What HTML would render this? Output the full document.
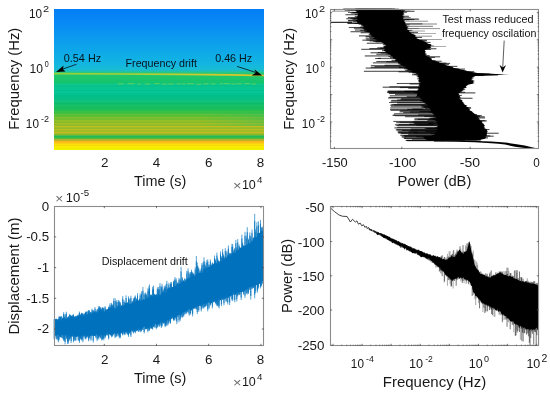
<!DOCTYPE html>
<html><head><meta charset="utf-8"><style>
html,body{margin:0;padding:0;background:#fff;}
svg{display:block;}
text{font-family:"Liberation Sans", Arial, sans-serif;}
</style></head><body>
<svg width="550" height="399" viewBox="0 0 550 399">
<rect width="550" height="399" fill="#fff"/>
<g shape-rendering="crispEdges">
<rect x="54" y="9" width="210" height="1" fill="#047ef6"/>
<rect x="54" y="10" width="210" height="1" fill="#047ff6"/>
<rect x="54" y="11" width="210" height="1" fill="#0580f6"/>
<rect x="54" y="12" width="210" height="1" fill="#0581f6"/>
<rect x="54" y="13" width="210" height="1" fill="#0581f6"/>
<rect x="54" y="14" width="210" height="1" fill="#0682f6"/>
<rect x="54" y="15" width="210" height="1" fill="#0683f5"/>
<rect x="54" y="16" width="210" height="1" fill="#0683f5"/>
<rect x="54" y="17" width="210" height="1" fill="#0684f5"/>
<rect x="54" y="18" width="210" height="1" fill="#0785f5"/>
<rect x="54" y="19" width="210" height="1" fill="#0786f5"/>
<rect x="54" y="20" width="210" height="1" fill="#0787f5"/>
<rect x="54" y="21" width="210" height="1" fill="#0788f4"/>
<rect x="54" y="22" width="210" height="1" fill="#0889f4"/>
<rect x="54" y="23" width="210" height="1" fill="#088af4"/>
<rect x="54" y="24" width="210" height="1" fill="#088bf4"/>
<rect x="54" y="25" width="210" height="1" fill="#088cf3"/>
<rect x="54" y="26" width="210" height="1" fill="#098ef3"/>
<rect x="54" y="27" width="210" height="1" fill="#098ff2"/>
<rect x="54" y="28" width="210" height="1" fill="#0990f2"/>
<rect x="54" y="29" width="210" height="1" fill="#0991f2"/>
<rect x="54" y="30" width="210" height="1" fill="#0a92f2"/>
<rect x="54" y="31" width="210" height="1" fill="#0a93f1"/>
<rect x="54" y="32" width="210" height="1" fill="#0a95f1"/>
<rect x="54" y="33" width="210" height="1" fill="#0a96f0"/>
<rect x="54" y="34" width="210" height="1" fill="#0b97f0"/>
<rect x="54" y="35" width="210" height="1" fill="#0b98f0"/>
<rect x="54" y="36" width="210" height="1" fill="#0b99ef"/>
<rect x="54" y="37" width="210" height="1" fill="#0b9aef"/>
<rect x="54" y="38" width="210" height="1" fill="#0c9bee"/>
<rect x="54" y="39" width="210" height="1" fill="#0c9cee"/>
<rect x="54" y="40" width="210" height="1" fill="#0c9dee"/>
<rect x="54" y="41" width="210" height="1" fill="#0c9eed"/>
<rect x="54" y="42" width="210" height="1" fill="#0c9fed"/>
<rect x="54" y="43" width="210" height="1" fill="#0da0ed"/>
<rect x="54" y="44" width="210" height="1" fill="#0da1ec"/>
<rect x="54" y="45" width="210" height="1" fill="#0da2ec"/>
<rect x="54" y="46" width="210" height="1" fill="#0da4eb"/>
<rect x="54" y="47" width="210" height="1" fill="#0ea4eb"/>
<rect x="54" y="48" width="210" height="1" fill="#0ea6ea"/>
<rect x="54" y="49" width="210" height="1" fill="#0ea6ea"/>
<rect x="54" y="50" width="210" height="1" fill="#0ea8e9"/>
<rect x="54" y="51" width="210" height="1" fill="#0ea8e9"/>
<rect x="54" y="52" width="210" height="1" fill="#0eaae8"/>
<rect x="54" y="53" width="210" height="1" fill="#0faae8"/>
<rect x="54" y="54" width="210" height="1" fill="#0face7"/>
<rect x="54" y="55" width="210" height="1" fill="#0fade7"/>
<rect x="54" y="56" width="210" height="1" fill="#10aee6"/>
<rect x="54" y="57" width="210" height="1" fill="#10afe5"/>
<rect x="54" y="58" width="210" height="1" fill="#11b0e4"/>
<rect x="54" y="59" width="210" height="1" fill="#11b1e4"/>
<rect x="54" y="60" width="210" height="1" fill="#11b2e3"/>
<rect x="54" y="61" width="210" height="1" fill="#12b3e2"/>
<rect x="54" y="62" width="210" height="1" fill="#12b4e1"/>
<rect x="54" y="63" width="210" height="1" fill="#13b5e0"/>
<rect x="54" y="64" width="210" height="1" fill="#14b7df"/>
<rect x="54" y="65" width="210" height="1" fill="#14b8dd"/>
<rect x="54" y="66" width="210" height="1" fill="#16b9db"/>
<rect x="54" y="67" width="210" height="1" fill="#16bad9"/>
<rect x="54" y="68" width="210" height="1" fill="#18bbd7"/>
<rect x="54" y="69" width="210" height="1" fill="#1abdcf"/>
<rect x="54" y="70" width="210" height="1" fill="#1cbfc0"/>
<rect x="54" y="71" width="210" height="1" fill="#21c2a7"/>
<rect x="54" y="72" width="210" height="1" fill="#28c682"/>
<rect x="54" y="73" width="210" height="1" fill="#25c67b"/>
<rect x="54" y="74" width="210" height="1" fill="#22c674"/>
<rect x="54" y="75" width="210" height="1" fill="#1fc66d"/>
<rect x="54" y="76" width="210" height="1" fill="#1ec669"/>
<rect x="54" y="77" width="210" height="1" fill="#1dc66a"/>
<rect x="54" y="78" width="210" height="1" fill="#1cc76c"/>
<rect x="54" y="79" width="210" height="1" fill="#1ac56c"/>
<rect x="54" y="80" width="210" height="1" fill="#17c36b"/>
<rect x="54" y="81" width="210" height="1" fill="#17c56d"/>
<rect x="54" y="82" width="210" height="1" fill="#13c372"/>
<rect x="54" y="83" width="210" height="1" fill="#11c57d"/>
<rect x="54" y="84" width="210" height="1" fill="#10c889"/>
<rect x="54" y="85" width="210" height="1" fill="#08c28c"/>
<rect x="54" y="86" width="210" height="1" fill="#07c18d"/>
<rect x="54" y="87" width="210" height="1" fill="#0ac590"/>
<rect x="54" y="88" width="210" height="1" fill="#09c592"/>
<rect x="54" y="89" width="210" height="1" fill="#08c493"/>
<rect x="54" y="90" width="210" height="1" fill="#04c192"/>
<rect x="54" y="91" width="210" height="1" fill="#06c495"/>
<rect x="54" y="92" width="210" height="1" fill="#08c696"/>
<rect x="54" y="93" width="210" height="1" fill="#03c091"/>
<rect x="54" y="94" width="210" height="1" fill="#06c290"/>
<rect x="54" y="95" width="210" height="1" fill="#02bd8c"/>
<rect x="54" y="96" width="210" height="1" fill="#05bf8a"/>
<rect x="54" y="97" width="210" height="1" fill="#04bd87"/>
<rect x="54" y="98" width="210" height="1" fill="#09c188"/>
<rect x="54" y="99" width="210" height="1" fill="#07be82"/>
<rect x="54" y="100" width="210" height="1" fill="#0ec27f"/>
<rect x="54" y="101" width="210" height="1" fill="#0fc17a"/>
<rect x="54" y="102" width="210" height="1" fill="#10c074"/>
<rect x="54" y="103" width="210" height="1" fill="#0bb96b"/>
<rect x="54" y="104" width="210" height="1" fill="#13be69"/>
<rect x="54" y="105" width="210" height="1" fill="#17c067"/>
<rect x="54" y="106" width="210" height="1" fill="#19c063"/>
<rect x="54" y="107" width="210" height="1" fill="#16bb5d"/>
<rect x="54" y="108" width="210" height="1" fill="#1cbf5b"/>
<rect x="54" y="109" width="210" height="1" fill="#1fbd56"/>
<rect x="54" y="110" width="210" height="1" fill="#28be50"/>
<rect x="54" y="111" width="210" height="1" fill="#36c34d"/>
<rect x="54" y="112" width="210" height="1" fill="#3abe44"/>
<rect x="54" y="113" width="210" height="1" fill="#42c042"/>
<rect x="54" y="114" width="210" height="1" fill="#64bf38"/>
<rect x="54" y="115" width="210" height="1" fill="#55bf38"/>
<rect x="54" y="116" width="210" height="1" fill="#62bf34"/>
<rect x="54" y="117" width="210" height="1" fill="#7dbf2e"/>
<rect x="54" y="118" width="210" height="1" fill="#75be2f"/>
<rect x="54" y="119" width="210" height="1" fill="#75bd2e"/>
<rect x="54" y="120" width="210" height="1" fill="#95bd27"/>
<rect x="54" y="121" width="210" height="1" fill="#90be28"/>
<rect x="54" y="122" width="210" height="1" fill="#7ebd2c"/>
<rect x="54" y="123" width="210" height="1" fill="#aebc23"/>
<rect x="54" y="124" width="210" height="1" fill="#91bd29"/>
<rect x="54" y="125" width="210" height="1" fill="#90bd29"/>
<rect x="54" y="126" width="210" height="1" fill="#c1bc20"/>
<rect x="54" y="127" width="210" height="1" fill="#9fbd26"/>
<rect x="54" y="128" width="210" height="1" fill="#95bc28"/>
<rect x="54" y="129" width="210" height="1" fill="#bdbc21"/>
<rect x="54" y="130" width="210" height="1" fill="#a6bc25"/>
<rect x="54" y="131" width="210" height="1" fill="#a3bc26"/>
<rect x="54" y="132" width="210" height="1" fill="#c8bb1f"/>
<rect x="54" y="133" width="210" height="1" fill="#9eba27"/>
<rect x="54" y="134" width="210" height="1" fill="#90b72b"/>
<rect x="54" y="135" width="210" height="1" fill="#4fbd48"/>
<rect x="54" y="136" width="210" height="1" fill="#24ba51"/>
<rect x="54" y="137" width="210" height="1" fill="#2abf50"/>
<rect x="54" y="138" width="210" height="1" fill="#5cbb3d"/>
<rect x="54" y="139" width="210" height="1" fill="#aeb727"/>
<rect x="54" y="140" width="210" height="1" fill="#c2b124"/>
<rect x="54" y="141" width="210" height="1" fill="#f6b81c"/>
<rect x="54" y="142" width="210" height="1" fill="#f9c018"/>
<rect x="54" y="143" width="210" height="1" fill="#fdcf13"/>
<rect x="54" y="144" width="210" height="1" fill="#fdde0d"/>
<rect x="54" y="145" width="210" height="1" fill="#f5de05"/>
<rect x="54" y="146" width="210" height="1" fill="#f6e803"/>
<rect x="54" y="147" width="210" height="1" fill="#f9ef04"/>
<rect x="54" y="148" width="210" height="1" fill="#f0eb00"/>
<rect x="54" y="149" width="210" height="0.5" fill="#f5f400"/>
</g>
<defs><linearGradient id="gr" x1="200" y1="0" x2="264" y2="0" gradientUnits="userSpaceOnUse"><stop offset="0" stop-color="#20c070" stop-opacity="0"/><stop offset="1" stop-color="#20c070" stop-opacity="0.45"/></linearGradient></defs>
<rect x="200" y="112" width="64" height="14" fill="url(#gr)" opacity="0.6"/>
<defs><linearGradient id="yl" x1="54" y1="0" x2="264" y2="0" gradientUnits="userSpaceOnUse"><stop offset="0" stop-color="#8cd43c"/><stop offset="0.45" stop-color="#b4d034"/><stop offset="0.8" stop-color="#d8c82c"/><stop offset="1" stop-color="#dcc02a"/></linearGradient></defs>
<path d="M54,73.6 L120,74.0 L180,74.4 L230,74.9 L264,75.5" stroke="url(#yl)" stroke-width="1.6" fill="none"/>
<path d="M118.0,83.8h5.3M127.7,83.7h6.7M137.7,84.1h2.7M145.1,83.9h4.8M154.4,83.6h5.2M162.1,84.0h4.1M167.4,83.9h6.4M176.9,83.8h3.6M181.6,83.9h3.9M187.0,83.7h6.8M196.5,84.2h4.6M203.5,83.8h5.0M210.9,83.8h4.6M220.1,83.6h2.8M223.9,83.6h5.8M231.2,84.0h4.1M236.4,83.7h5.1M244.6,83.6h5.6M252.0,84.0h3.8" stroke="#b0d840" stroke-width="0.9" fill="none" opacity="0.55"/>
<text x="63.83" y="61.50" font-size="10.60" fill="#06121c" textLength="37.27" lengthAdjust="spacingAndGlyphs">0.54 Hz</text>
<text x="125.57" y="67.20" font-size="10.60" fill="#06121c" textLength="71.35" lengthAdjust="spacingAndGlyphs">Frequency drift</text>
<text x="215.23" y="62.20" font-size="10.60" fill="#06121c" textLength="36.96" lengthAdjust="spacingAndGlyphs">0.46 Hz</text>
<path d="M76.5,64.3 L62.8,69" stroke="#051018" stroke-width="0.8"/>
<path d="M56,71.9 L63.6,65.6 L62.9,69.1 L65.4,71.6 Z" fill="#000"/>
<path d="M237,66.4 L256,72.5" stroke="#051018" stroke-width="0.8"/>
<path d="M262.2,75.4 L254.4,69.2 L256,72.5 L251.8,75.6 Z" fill="#000"/>
<path d="M356.4,9.00 L356.9,9.50 L354.6,10.00 L358.6,10.50 L357.0,11.00 L356.7,11.50 L357.6,12.00 L357.3,12.50 L356.8,13.00 L358.1,13.50 L358.3,14.00 L357.9,14.50 L358.3,15.00 L357.8,15.50 L357.0,16.00 L357.1,16.50 L358.1,17.00 L355.8,17.50 L356.7,18.00 L358.2,18.50 L357.3,19.00 L357.6,19.50 L356.7,20.00 L355.3,20.50 L356.0,21.00 L357.2,21.50 L357.2,22.00 L358.1,22.50 L359.1,23.00 L360.5,23.50 L359.7,24.00 L361.8,24.50 L360.9,25.00 L362.4,25.50 L362.9,26.00 L363.9,26.50 L363.5,27.00 L363.9,27.50 L365.0,28.00 L361.8,28.50 L363.2,29.00 L366.1,29.50 L363.2,30.00 L366.4,30.50 L367.0,31.00 L365.8,31.50 L367.1,32.00 L369.6,32.50 L370.1,33.00 L369.5,33.50 L369.9,34.00 L370.4,34.50 L372.1,35.00 L370.4,35.50 L372.3,36.00 L371.0,36.50 L374.0,37.00 L373.8,37.50 L375.8,38.00 L372.4,38.50 L373.3,39.00 L375.8,39.50 L377.2,40.00 L376.9,40.50 L379.1,41.00 L379.7,41.50 L381.6,42.00 L381.7,42.50 L382.9,43.00 L384.2,43.50 L383.2,44.00 L382.4,44.50 L386.3,45.00 L385.9,45.50 L382.2,46.00 L385.1,46.50 L383.6,47.00 L384.4,47.50 L384.8,48.00 L385.9,48.50 L383.2,49.00 L385.2,49.50 L384.0,50.00 L383.8,50.50 L384.1,51.00 L385.2,51.50 L386.5,52.00 L385.9,52.50 L389.2,53.00 L388.1,53.50 L387.4,54.00 L390.5,54.50 L389.9,55.00 L390.9,55.50 L391.0,56.00 L392.8,56.50 L393.0,57.00 L392.4,57.50 L393.5,58.00 L392.6,58.50 L396.8,59.00 L394.6,59.50 L395.8,60.00 L394.7,60.50 L395.5,61.00 L399.0,61.50 L398.4,62.00 L398.1,62.50 L397.3,63.00 L401.2,63.50 L398.9,64.00 L400.0,64.50 L401.0,65.00 L402.4,65.50 L402.8,66.00 L403.5,66.50 L406.7,67.00 L405.3,67.50 L406.5,68.00 L405.2,68.50 L408.5,69.00 L406.4,69.50 L408.5,70.00 L412.9,70.50 L410.1,71.00 L411.8,71.50 L411.4,72.00 L412.2,72.50 L415.8,73.00 L415.5,73.50 L417.6,74.00 L419.0,74.50 L417.3,75.00 L418.0,75.50 L418.7,76.00 L416.7,76.50 L418.2,77.00 L419.2,77.50 L416.7,78.00 L419.4,78.50 L416.3,79.00 L419.6,79.50 L418.6,80.00 L417.9,80.50 L419.2,81.00 L418.8,81.50 L417.7,82.00 L421.1,82.50 L421.3,83.00 L418.7,83.50 L419.3,84.00 L419.1,84.50 L419.3,85.00 L418.0,85.50 L420.5,86.00 L419.3,86.50 L417.9,87.00 L418.3,87.50 L417.9,88.00 L418.4,88.50 L419.2,89.00 L419.1,89.50 L416.9,90.00 L418.2,90.50 L417.0,91.00 L416.0,91.50 L416.7,92.00 L417.9,92.50 L416.1,93.00 L417.0,93.50 L418.3,94.00 L417.0,94.50 L416.9,95.00 L417.1,95.50 L416.6,96.00 L418.9,96.50 L419.7,97.00 L420.3,97.50 L419.5,98.00 L420.0,98.50 L422.6,99.00 L421.0,99.50 L422.2,100.00 L419.8,100.50 L422.4,101.00 L422.9,101.50 L422.9,102.00 L426.9,102.50 L425.3,103.00 L424.0,103.50 L426.7,104.00 L427.2,104.50 L427.7,105.00 L429.7,105.50 L428.3,106.00 L428.8,106.50 L428.3,107.00 L428.2,107.50 L429.7,108.00 L430.0,108.50 L429.4,109.00 L430.2,109.50 L431.2,110.00 L431.6,110.50 L431.1,111.00 L429.7,111.50 L432.7,112.00 L432.4,112.50 L432.1,113.00 L432.9,113.50 L432.5,114.00 L434.5,114.50 L434.1,115.00 L432.9,115.50 L435.4,116.00 L435.8,116.50 L435.3,117.00 L436.4,117.50 L434.3,118.00 L437.7,118.50 L436.9,119.00 L438.0,119.50 L434.0,120.00 L435.4,120.50 L436.5,121.00 L436.9,121.50 L439.5,122.00 L437.3,122.50 L436.0,123.00 L438.1,123.50 L437.8,124.00 L436.8,124.50 L438.7,125.00 L439.1,125.50 L437.4,126.00 L436.5,126.50 L438.4,127.00 L438.0,127.50 L437.2,128.00 L436.6,128.50 L437.2,129.00 L438.0,129.50 L437.5,130.00 L433.7,130.50 L437.2,131.00 L438.1,131.50 L436.0,132.00 L436.0,132.50 L434.6,133.00 L436.5,133.50 L433.6,134.00 L434.8,134.50 L434.5,135.00 L432.1,135.50 L433.0,136.00 L422.8,136.50 L424.7,137.00 L422.2,137.50 L424.3,138.00 L424.1,138.50 L425.3,139.00 L425.5,139.50 L427.8,140.00 L429.4,140.50 L481.0,140.50 L480.4,140.00 L481.4,139.50 L484.1,139.00 L485.1,138.50 L485.8,138.00 L486.5,137.50 L485.4,137.00 L485.5,136.50 L487.3,136.00 L486.6,135.50 L486.2,135.00 L486.9,134.50 L487.1,134.00 L486.8,133.50 L487.6,133.00 L486.5,132.50 L487.1,132.00 L487.8,131.50 L487.4,131.00 L486.7,130.50 L487.4,130.00 L486.0,129.50 L487.0,129.00 L484.2,128.50 L485.2,128.00 L484.0,127.50 L485.1,127.00 L483.5,126.50 L484.8,126.00 L484.6,125.50 L484.5,125.00 L483.6,124.50 L484.0,124.00 L483.2,123.50 L481.9,123.00 L481.9,122.50 L483.0,122.00 L481.6,121.50 L482.0,121.00 L479.5,120.50 L480.5,120.00 L479.6,119.50 L478.1,119.00 L479.7,118.50 L478.9,118.00 L478.2,117.50 L478.1,117.00 L476.6,116.50 L476.9,116.00 L476.6,115.50 L476.3,115.00 L475.2,114.50 L474.9,114.00 L474.3,113.50 L473.5,113.00 L472.8,112.50 L472.5,112.00 L472.1,111.50 L471.3,111.00 L469.9,110.50 L469.4,110.00 L470.1,109.50 L469.3,109.00 L468.4,108.50 L468.7,108.00 L468.5,107.50 L467.5,107.00 L466.5,106.50 L465.9,106.00 L467.5,105.50 L465.5,105.00 L464.2,104.50 L464.6,104.00 L463.9,103.50 L463.1,103.00 L464.0,102.50 L462.1,102.00 L462.2,101.50 L462.8,101.00 L462.0,100.50 L462.2,100.00 L459.8,99.50 L461.3,99.00 L459.3,98.50 L458.9,98.00 L461.4,97.50 L459.7,97.00 L459.6,96.50 L460.6,96.00 L457.9,95.50 L458.9,95.00 L459.4,94.50 L458.6,94.00 L458.6,93.50 L459.0,93.00 L461.1,92.50 L459.1,92.00 L461.6,91.50 L461.6,91.00 L462.9,90.50 L462.6,90.00 L463.2,89.50 L463.6,89.00 L463.7,88.50 L465.2,88.00 L466.6,87.50 L466.6,87.00 L466.0,86.50 L465.8,86.00 L467.6,85.50 L467.3,85.00 L469.1,84.50 L471.4,84.00 L472.7,83.50 L475.0,83.00 L473.1,82.50 L473.2,82.00 L473.0,81.50 L473.5,81.00 L473.6,80.50 L470.7,80.00 L472.3,79.50 L472.6,79.00 L472.2,78.50 L471.4,78.00 L472.6,77.50 L472.5,77.00 L474.8,76.50 L475.1,76.00 L486.2,75.50 L496.1,75.00 L503.9,74.50 L495.1,74.00 L486.3,73.50 L477.2,73.00 L475.0,72.50 L471.9,72.00 L469.5,71.50 L466.4,71.00 L465.3,70.50 L463.4,70.00 L460.8,69.50 L459.2,69.00 L458.3,68.50 L454.3,68.00 L452.8,67.50 L452.9,67.00 L451.0,66.50 L449.1,66.00 L446.9,65.50 L445.6,65.00 L444.4,64.50 L442.2,64.00 L442.4,63.50 L440.4,63.00 L438.6,62.50 L439.4,62.00 L436.8,61.50 L436.2,61.00 L435.1,60.50 L431.8,60.00 L431.3,59.50 L431.2,59.00 L431.1,58.50 L430.0,58.00 L428.9,57.50 L429.9,57.00 L427.4,56.50 L426.6,56.00 L425.3,55.50 L425.7,55.00 L425.5,54.50 L425.6,54.00 L425.2,53.50 L425.8,53.00 L424.7,52.50 L425.0,52.00 L426.2,51.50 L424.7,51.00 L424.9,50.50 L425.1,50.00 L426.8,49.50 L426.0,49.00 L428.4,48.50 L430.3,48.00 L431.4,47.50 L430.4,47.00 L430.9,46.50 L431.2,46.00 L431.4,45.50 L430.9,45.00 L431.7,44.50 L429.3,44.00 L427.3,43.50 L426.8,43.00 L425.5,42.50 L425.8,42.00 L424.2,41.50 L423.1,41.00 L422.8,40.50 L419.8,40.00 L420.7,39.50 L415.9,39.00 L417.4,38.50 L417.4,38.00 L416.7,37.50 L416.4,37.00 L415.6,36.50 L415.5,36.00 L415.5,35.50 L415.8,35.00 L413.8,34.50 L413.0,34.00 L411.4,33.50 L410.7,33.00 L411.0,32.50 L409.2,32.00 L409.9,31.50 L408.8,31.00 L408.8,30.50 L408.7,30.00 L406.9,29.50 L407.9,29.00 L408.3,28.50 L406.5,28.00 L408.6,27.50 L407.3,27.00 L405.7,26.50 L406.2,26.00 L407.0,25.50 L406.6,25.00 L406.8,24.50 L404.7,24.00 L405.9,23.50 L406.2,23.00 L404.9,22.50 L405.2,22.00 L404.1,21.50 L404.4,21.00 L405.2,20.50 L403.2,20.00 L403.6,19.50 L403.3,19.00 L403.8,18.50 L402.4,18.00 L403.5,17.50 L404.8,17.00 L402.7,16.50 L404.8,16.00 L402.3,15.50 L403.0,15.00 L402.9,14.50 L402.8,14.00 L404.1,13.50 L404.4,13.00 L402.8,12.50 L403.3,12.00 L404.0,11.50 L402.9,11.00 L402.7,10.50 L403.6,10.00 L402.5,9.50 L401.6,9.00Z" fill="#000"/>
<path d="M443.7,140.80 L407.1,140.69 L437.9,140.59 L405.6,140.48 L464.6,140.38 L406.6,140.27 L435.4,140.17 L439.0,140.06 L436.2,139.96 L476.9,139.86 L440.3,139.75 L473.0,139.65 L465.2,139.54 L450.5,139.44 L454.6,139.33 L435.3,139.23 L412.0,139.12 L463.4,139.02 L442.7,138.91 L478.2,138.81 L450.7,138.70 L422.3,138.60 L404.5,138.49 L445.3,138.39 L450.0,138.28 L403.8,138.18 L406.0,138.07 L404.5,137.97 L488.0,137.86 L436.6,137.76 L430.8,137.66 L442.0,137.55 L455.0,137.45 L483.5,137.34 L436.0,137.24 L401.9,137.13 L452.3,137.03 L427.8,136.92 L416.3,136.82 L454.1,136.71 L449.8,136.61 L467.8,136.51 L459.6,136.40 L404.4,136.30 L493.7,136.19 L401.5,136.09 L418.6,135.98 L490.1,135.88 L418.3,135.77 L403.8,135.67 L475.8,135.57 L431.9,135.46 L458.2,135.36 L400.3,135.25 L472.8,135.15 L445.1,135.05 L437.1,134.94 L451.2,134.84 L459.0,134.73 L466.5,134.63 L450.2,134.52 L484.7,134.42 L408.3,134.32 L466.3,134.21 L471.0,134.11 L464.2,134.00 L460.0,133.90 L443.7,133.80 L430.5,133.69 L464.6,133.59 L400.8,133.48 L446.2,133.38 L498.7,133.28 L466.4,133.17 L398.3,133.07 L453.0,132.97 L414.0,132.86 L436.5,132.76 L448.5,132.65 L462.7,132.55 L397.8,132.45 L398.3,132.34 L417.8,132.24 L398.8,132.13 L468.0,132.03 L408.6,131.93 L475.7,131.82 L453.5,131.72 L458.1,131.62 L425.8,131.51 L432.6,131.41 L474.8,131.31 L436.6,131.20 L397.5,131.10 L479.6,131.00 L410.3,130.89 L411.1,130.79 L463.9,130.68 L415.9,130.58 L402.2,130.48 L478.3,130.37 L449.8,130.27 L458.1,130.17 L451.1,130.06 L395.8,129.96 L465.4,129.86 L438.6,129.75 L396.7,129.65 L489.4,129.55 L448.1,129.45 L477.2,129.34 L469.2,129.24 L410.8,129.14 L435.0,129.03 L445.1,128.93 L442.6,128.83 L444.7,128.72 L427.2,128.62 L474.3,128.52 L424.8,128.41 L448.9,128.31 L455.2,128.21 L465.8,128.10 L430.5,128.00 L394.5,127.90 L468.5,127.80 L480.6,127.69 L435.4,127.59 L480.1,127.49 L450.7,127.38 L397.2,127.28 L415.0,127.18 L437.1,127.08 L464.8,126.97 L447.0,126.87 L443.7,126.77 L452.6,126.67 L470.3,126.56 L469.7,126.46 L451.0,126.36 L441.5,126.25 L468.3,126.15 L443.3,126.05 L476.3,125.95 L460.3,125.84 L458.2,125.74 L453.2,125.64 L471.9,125.54 L396.5,125.43 L472.8,125.33 L418.5,125.23 L416.5,125.13 L474.6,125.02 L474.0,124.92 L394.9,124.82 L473.8,124.72 L450.7,124.62 L398.7,124.51 L433.7,124.41 L425.6,124.31 L409.2,124.21 L452.4,124.10 L471.0,124.00 L450.3,123.90 L464.8,123.80 L473.5,123.70 L427.9,123.59 L440.5,123.49 L414.8,123.39 L458.4,123.29 L459.3,123.19 L413.5,123.08 L433.1,122.98 L425.9,122.88 L413.4,122.78 L396.2,122.68 L452.4,122.57 L436.4,122.47 L476.6,122.37 L399.7,122.27 L441.8,122.17 L442.4,122.06 L474.1,121.96 L412.5,121.86 L460.2,121.76 L472.4,121.66 L433.6,121.56 L393.4,121.45 L479.7,121.35 L467.3,121.25 L452.0,121.15 L478.5,121.05 L486.8,120.95 L464.7,120.85 L443.7,120.74 L485.3,120.64 L465.6,120.54 L427.5,120.44 L444.4,120.34 L474.6,120.24 L461.9,120.14 L453.5,120.03 L479.3,119.93 L414.3,119.83 L442.8,119.73 L435.7,119.63 L432.5,119.53 L474.8,119.43 L417.7,119.33 L441.1,119.22 L473.9,119.12 L428.9,119.02 L447.5,118.92 L414.6,118.82 L434.5,118.72 L471.8,118.62 L455.1,118.52 L431.7,118.42 L449.3,118.32 L458.5,118.21 L429.8,118.11 L438.6,118.01 L485.1,117.91 L476.0,117.81 L440.4,117.71 L444.7,117.61 L462.5,117.51 L468.7,117.41 L471.1,117.31 L454.9,117.21 L468.0,117.11 L433.1,117.01 L451.5,116.90 L484.7,116.80 L405.1,116.70 L455.4,116.60 L424.3,116.50 L458.0,116.40 L480.1,116.30 L457.6,116.20 L479.5,116.10 L450.2,116.00 L463.5,115.90 L443.3,115.80 L394.9,115.70 L481.8,115.60 L471.2,115.50 L437.7,115.40 L392.5,115.30 L395.0,115.20 L393.6,115.10 L473.6,115.00 L418.2,114.90 L455.0,114.80 L472.2,114.70 L464.6,114.60 L477.1,114.50 L436.3,114.40 L436.6,114.30 L449.9,114.20 L466.8,114.10 L474.0,114.00 L394.9,113.90 L394.7,113.80 L394.2,113.70 L448.1,113.60 L465.5,113.50 L454.1,113.40 L473.2,113.30 L449.5,113.20 L453.3,113.10 L444.1,113.00 L450.9,112.90 L442.9,112.80 L436.8,112.70 L403.3,112.60 L439.3,112.50 L429.3,112.40 L445.2,112.30 L447.8,112.20 L460.2,112.11 L410.0,112.01 L462.8,111.91 L399.5,111.81 L443.3,111.71 L419.4,111.61 L420.7,111.51 L455.1,111.41 L449.2,111.31 L463.8,111.21 L450.2,111.11 L449.6,111.01 L441.0,110.91 L400.3,110.82 L446.4,110.72 L465.2,110.62 L438.2,110.52 L431.0,110.42 L438.1,110.32 L390.6,110.22 L448.3,110.12 L460.8,110.02 L436.9,109.93 L425.8,109.83 L394.1,109.73 L390.2,109.63 L463.6,109.53 L413.3,109.43 L407.2,109.33 L423.3,109.23 L412.2,109.14 L419.4,109.04 L447.1,108.94 L456.9,108.84 L449.8,108.74 L464.1,108.64 L460.3,108.54 L435.4,108.45 L460.4,108.35 L425.2,108.25 L465.4,108.15 L471.1,108.05 L390.2,107.95 L470.7,107.86 L461.7,107.76 L438.9,107.66 L460.3,107.56 L423.5,107.46 L434.7,107.37 L462.2,107.27 L432.9,107.17 L421.3,107.07 L435.0,106.97 L456.6,106.88 L437.3,106.78 L424.6,106.68 L450.6,106.58 L422.7,106.48 L424.7,106.39 L459.9,106.29 L391.0,106.19 L445.6,106.09 L462.0,106.00 L427.5,105.90 L454.4,105.80 L463.9,105.70 L460.9,105.60 L431.1,105.51 L420.8,105.41 L448.4,105.31 L390.2,105.21 L455.0,105.12 L447.3,105.02 L420.8,104.92 L394.2,104.83 L422.3,104.73 L450.8,104.63 L435.9,104.53 L391.5,104.44 L457.2,104.34 L450.1,104.24 L456.7,104.14 L434.4,104.05 L441.1,103.95 L431.1,103.85 L435.5,103.76 L462.0,103.66 L445.0,103.56 L441.7,103.47 L441.6,103.37 L456.8,103.27 L448.2,103.17 L450.9,103.08 L457.5,102.98 L397.1,102.88 L456.3,102.79 L462.2,102.69 L459.5,102.59 L389.1,102.50 L462.6,102.40 L438.7,102.30 L440.7,102.21 L424.0,102.11 L427.4,102.02 L437.9,101.92 L431.5,101.82 L427.9,101.73 L456.6,101.63 L427.3,101.53 L444.7,101.44 L433.0,101.34 L390.8,101.24 L391.5,101.15 L452.9,101.05 L428.7,100.96 L420.0,100.86 L433.1,100.76 L436.7,100.67 L438.4,100.57 L432.9,100.48 L391.4,100.38 L445.9,100.28 L442.4,100.19 L426.7,100.09 L397.2,100.00 L432.7,99.90 L435.9,99.80 L430.1,99.71 L400.6,99.61 L427.2,99.52 L422.3,99.42 L422.1,99.33 L425.1,99.23 L433.0,99.14 L450.5,99.04 L422.7,98.94 L445.0,98.85 L401.1,98.75 L458.3,98.66 L454.8,98.56 L434.7,98.47 L430.7,98.37 L472.5,98.28 L429.4,98.18 L429.0,98.09 L388.0,97.99 L444.8,97.90 L459.5,97.80 L432.3,97.71 L451.2,97.61 L421.6,97.52 L389.2,97.42 L437.9,97.33 L423.2,97.23 L434.1,97.14 L432.0,97.04 L413.9,96.95 L406.7,96.85 L416.5,96.76 L440.9,96.66 L415.9,96.57 L425.9,96.47 L436.4,96.38 L449.3,96.28 L459.8,96.19 L429.9,96.10 L423.1,96.00 L438.0,95.91 L389.8,95.81 L413.1,95.72 L440.9,95.62 L457.7,95.53 L461.8,95.43 L428.5,95.34 L426.1,95.25 L445.4,95.15 L416.9,95.06 L423.2,94.96 L454.1,94.87 L421.9,94.78 L455.1,94.68 L443.9,94.59 L440.7,94.49 L395.0,94.40 L449.6,94.31 L431.1,94.21 L443.0,94.12 L441.7,94.03 L445.1,93.93 L455.9,93.84 L450.5,93.74 L433.7,93.65 L455.0,93.56 L422.0,93.46 L389.1,93.37 L437.7,93.28 L432.2,93.18 L388.6,93.09 L389.2,93.00 L475.3,92.90 L444.8,92.81 L438.5,92.72 L413.8,92.62 L450.2,92.53 L446.0,92.44 L387.3,92.34 L465.1,92.25 L442.8,92.16 L424.0,92.06 L387.0,91.97 L440.8,91.88 L451.3,91.79 L405.3,91.69 L455.7,91.60 L388.3,91.51 L454.5,91.41 L404.4,91.32 L452.7,91.23 L461.9,91.14 L387.9,91.04 L438.4,90.95 L449.2,90.86 L454.1,90.77 L428.3,90.67 L454.3,90.58 L462.2,90.49 L424.1,90.40 L433.3,90.30 L432.5,90.21 L425.5,90.12 L439.7,90.03 L463.7,89.93 L417.8,89.79 L450.3,89.64 L435.1,89.50 L465.2,89.35 L434.0,89.21 L424.2,89.06 L440.3,88.92 L452.6,88.77 L418.5,88.63 L461.7,88.48 L439.1,88.34 L408.3,88.19 L423.9,88.05 L446.9,87.90 L442.4,87.76 L399.9,87.62 L405.8,87.47 L458.5,87.33 L382.7,87.19 L433.6,87.04 L389.4,86.90 L391.2,86.76 L431.8,86.61 L458.6,86.47 L463.2,86.33 L448.8,86.19 L431.8,86.04 L453.8,85.90 L455.3,85.76 L453.2,85.62 L444.4,85.48 L443.6,85.34 L458.1,85.19 L454.5,85.05 L429.8,84.91 L429.8,84.77 L467.3,84.63 L448.7,84.49 L458.1,84.35 L457.4,84.21 L453.0,84.07 L409.7,83.93 L442.3,83.79 L434.3,83.65 L396.8,83.51 L417.5,83.37 L422.5,83.23 L473.0,83.09 L452.2,82.95 L438.3,82.81 L465.8,82.68 L424.5,82.54 L419.3,82.40 L453.9,82.26 L455.2,82.12 L466.6,81.98 L459.4,81.85 L464.8,81.71 L466.7,81.57 L425.7,81.43 L444.7,81.30 L474.3,81.16 L467.2,81.02 L447.5,80.89 L442.0,80.75 L449.9,80.61 L454.8,80.48 L424.1,80.34 L469.2,80.21 L436.8,80.07 L455.0,79.93 L435.8,79.80 L453.9,79.66 L427.2,79.53 L446.6,79.39 L423.0,79.26 L456.2,79.12 L422.1,78.99 L443.0,78.85 L465.9,78.72 L451.9,78.58 L440.8,78.45 L442.8,78.32 L429.4,78.18 L448.8,78.05 L473.6,77.92 L469.5,77.78 L444.9,77.65 L440.9,77.52 L438.4,77.38 L459.5,77.25 L433.5,77.12 L466.7,76.99 L445.0,76.85 L447.9,76.72 L454.7,76.59 L420.9,76.46 L434.0,76.33 L436.5,76.19 L443.7,76.06 L432.1,75.93 L416.5,75.80 L429.1,75.67 L484.2,75.54 L443.1,75.41 L447.5,75.28 L460.7,75.15 L497.9,75.02 L476.5,74.89 L412.0,74.76 L455.5,74.63 L445.0,74.50 L414.0,74.37 L424.9,74.24 L490.0,74.11 L468.0,73.98 L475.6,73.85 L433.2,73.72 L457.0,73.59 L430.3,73.47 L444.7,73.34 L468.6,73.21 L463.2,73.08 L412.4,72.95 L415.0,72.83 L427.0,72.70 L418.0,72.57 L431.4,72.44 L455.5,72.32 L408.7,72.19 L415.6,72.06 L421.8,71.94 L398.5,71.81 L474.2,71.68 L433.2,71.56 L451.4,71.43 L363.9,71.30 L465.3,71.18 L466.6,71.05 L414.5,70.93 L406.9,70.80 L454.3,70.68 L428.7,70.55 L438.4,70.43 L405.2,70.30 L442.4,70.18 L450.3,70.05 L415.6,69.93 L456.0,69.80 L426.3,69.68 L447.0,69.56 L442.3,69.43 L449.7,69.31 L462.5,69.19 L464.9,69.06 L418.4,68.94 L403.9,68.82 L433.6,68.69 L411.5,68.57 L415.1,68.45 L417.5,68.33 L430.9,68.20 L365.7,68.08 L433.2,67.96 L445.7,67.84 L447.2,67.72 L399.5,67.59 L442.4,67.47 L370.6,67.35 L400.6,67.23 L398.8,67.11 L444.5,66.99 L419.5,66.87 L426.6,66.75 L374.5,66.63 L434.7,66.51 L457.3,66.39 L426.1,66.27 L437.1,66.15 L421.1,66.03 L432.3,65.91 L394.3,65.79 L370.9,65.67 L443.5,65.55 L431.9,65.43 L384.6,65.31 L422.4,65.19 L413.8,65.07 L439.1,64.96 L423.4,64.84 L427.5,64.72 L448.9,64.60 L435.3,64.48 L425.1,64.37 L445.1,64.25 L426.5,64.13 L438.0,64.01 L440.2,63.90 L398.1,63.78 L398.6,63.66 L426.5,63.55 L450.1,63.43 L408.6,63.31 L446.4,63.20 L442.2,63.08 L402.4,62.96 L372.9,62.85 L411.1,62.73 L416.6,62.62 L415.3,62.50 L436.8,62.39 L402.2,62.27 L430.8,62.16 L408.1,62.04 L391.4,61.93 L386.3,61.81 L413.5,61.70 L405.2,61.58 L376.4,61.47 L408.0,61.36 L441.7,61.24 L406.6,61.13 L408.4,61.01 L429.6,60.90 L397.4,60.79 L415.8,60.67 L419.2,60.56 L401.3,60.45 L391.6,60.34 L415.7,60.22 L428.2,60.11 L429.5,60.00 L418.9,59.89 L398.7,59.77 L431.9,59.66 L404.5,59.55 L401.0,59.44 L405.5,59.33 L407.6,59.22 L417.5,59.10 L405.5,58.99 L417.8,58.88 L431.7,58.77 L417.4,58.66 L375.2,58.55 L381.0,58.44 L377.9,58.33 L392.7,58.22 L415.6,58.11 L426.1,58.00 L395.2,57.89 L407.5,57.78 L390.0,57.67 L419.9,57.56 L434.9,57.45 L421.2,57.34 L417.7,57.23 L419.1,57.13 L429.7,57.02 L395.2,56.91 L440.1,56.80 L401.3,56.69 L394.4,56.58 L426.0,56.48 L388.5,56.37 L404.4,56.26 L401.8,56.15 L426.2,56.05 L364.8,55.94 L392.9,55.83 L392.3,55.72 L426.9,55.62 L429.6,55.51 L406.9,55.40 L416.1,55.30 L410.7,55.19 L399.6,55.08 L401.7,54.98 L406.3,54.87 L403.0,54.77 L413.6,54.66 L409.9,54.55 L416.2,54.45 L379.8,54.34 L376.4,54.24 L426.8,54.13 L393.4,54.03 L416.7,53.92 L386.2,53.82 L393.2,53.71 L413.2,53.61 L390.7,53.51 L391.5,53.40 L388.1,53.30 L407.4,53.19 L389.2,53.09 L380.8,52.99 L396.8,52.88 L370.5,52.78 L402.4,52.68 L399.0,52.57 L377.8,52.47 L409.7,52.37 L425.3,52.27 L410.7,52.16 L405.0,52.06 L422.5,51.96 L394.2,51.86 L401.3,51.75 L386.1,51.65 L414.7,51.55 L389.6,51.45 L411.8,51.35 L401.8,51.24 L422.2,51.14 L403.6,51.04 L408.3,50.94 L396.9,50.84 L393.4,50.74 L382.0,50.64 L386.8,50.54 L423.3,50.44 L394.2,50.34 L417.6,50.24 L411.8,50.14 L407.0,50.04 L420.8,49.94 L391.8,49.84 L412.5,49.74 L407.8,49.64 L414.6,49.54 L430.9,49.44 L361.3,49.34 L417.1,49.24 L391.5,49.14 L400.3,49.04 L418.6,48.95 L401.6,48.85 L436.4,48.75 L423.2,48.65 L369.4,48.55 L411.6,48.46 L397.8,48.36 L389.3,48.26 L380.3,48.16 L429.6,48.06 L390.4,47.97 L377.3,47.87 L429.1,47.77 L426.8,47.68 L408.8,47.58 L411.5,47.48 L395.5,47.39 L426.3,47.29 L426.5,47.19 L383.3,47.10 L423.4,47.00 L423.5,46.90 L384.0,46.81 L392.1,46.71 L394.1,46.62 L405.5,46.52 L386.4,46.43 L408.3,46.33 L385.0,46.24 L434.0,46.14 L428.8,46.05 L415.9,45.95 L426.9,45.86 L395.0,45.76 L417.6,45.67 L389.4,45.57 L418.2,45.48 L430.3,45.38 L387.5,45.29 L414.3,45.20 L403.4,45.10 L404.6,45.01 L387.6,44.92 L423.5,44.82 L406.0,44.73 L422.7,44.64 L412.6,44.54 L408.4,44.45 L399.3,44.36 L401.7,44.26 L414.6,44.17 L396.9,44.08 L399.3,43.99 L410.3,43.89 L391.6,43.80 L424.3,43.71 L385.6,43.62 L427.4,43.53 L406.7,43.43 L424.2,43.34 L366.8,43.25 L388.2,43.16 L399.8,43.07 L422.6,42.98 L398.1,42.89 L416.5,42.80 L387.5,42.70 L411.5,42.61 L397.5,42.52 L430.5,42.43 L401.7,42.34 L400.1,42.25 L388.0,42.16 L425.3,42.07 L418.6,41.98 L375.6,41.89 L381.2,41.80 L389.3,41.71 L404.6,41.62 L393.5,41.53 L373.3,41.45 L403.3,41.36 L410.7,41.27 L403.2,41.18 L375.7,41.09 L410.1,41.00 L369.6,40.91 L426.8,40.82 L413.7,40.74 L408.3,40.65 L386.9,40.56 L395.8,40.47 L389.2,40.38 L415.8,40.30 L362.5,40.21 L362.4,40.12 L427.1,40.03 L368.7,39.95 L366.3,39.86 L418.9,39.77 L386.5,39.68 L413.3,39.60 L422.3,39.51 L385.2,39.42 L418.1,39.34 L412.9,39.25 L377.1,39.16 L378.4,39.08 L395.3,38.99 L370.1,38.91 L383.5,38.82 L399.6,38.73 L404.6,38.65 L397.9,38.56 L392.2,38.48 L396.0,38.39 L405.8,38.31 L365.6,38.22 L386.9,38.13 L413.2,38.05 L383.2,37.96 L377.7,37.88 L393.3,37.80 L398.0,37.71 L369.3,37.63 L394.0,37.54 L422.1,37.46 L374.9,37.37 L412.1,37.29 L414.4,37.21 L391.7,37.12 L410.8,37.04 L401.7,36.95 L386.9,36.87 L403.4,36.79 L379.4,36.70 L395.2,36.62 L365.7,36.54 L394.8,36.45 L404.2,36.37 L406.2,36.29 L401.5,36.20 L385.5,36.12 L375.0,36.04 L376.1,35.96 L359.0,35.87 L387.9,35.79 L373.4,35.71 L394.7,35.63 L402.7,35.55 L383.7,35.46 L389.9,35.38 L400.5,35.30 L385.2,35.22 L375.5,35.14 L413.1,35.06 L369.3,34.97 L388.0,34.89 L387.0,34.81 L400.0,34.73 L397.8,34.65 L381.9,34.57 L413.0,34.49 L372.2,34.41 L380.0,34.33 L368.7,34.25 L410.7,34.17 L387.7,34.09 L402.6,34.01 L376.8,33.93 L372.9,33.85 L388.5,33.77 L373.1,33.69 L399.8,33.61 L397.8,33.53 L397.7,33.45 L409.1,33.37 L414.0,33.29 L413.3,33.21 L381.4,33.13 L372.4,33.05 L408.8,32.97 L384.8,32.89 L375.0,32.82 L360.7,32.74 L364.5,32.66 L383.0,32.58 L371.3,32.50 L379.1,32.42 L418.0,32.35 L397.3,32.27 L407.4,32.19 L402.3,32.11 L375.3,32.03 L390.5,31.96 L382.4,31.88 L384.0,31.80 L350.6,31.72 L392.6,31.65 L396.3,31.57 L390.9,31.49 L364.4,31.41 L398.4,31.34 L408.3,31.26 L386.1,31.18 L375.7,31.11 L401.9,31.03 L397.4,30.95 L376.1,30.88 L371.2,30.80 L399.7,30.73 L410.9,30.65 L396.5,30.57 L404.4,30.50 L412.4,30.42 L360.3,30.35 L367.0,30.27 L384.9,30.19 L387.8,30.12 L354.9,30.04 L381.4,29.97 L387.3,29.89 L401.1,29.82 L364.2,29.74 L404.1,29.67 L389.8,29.59 L377.6,29.52 L375.3,29.44 L375.7,29.37 L395.3,29.29 L405.4,29.22 L406.9,29.15 L369.0,29.07 L375.3,29.00 L379.2,28.92 L377.0,28.85 L378.5,28.77 L378.8,28.70 L392.2,28.63 L393.0,28.55 L418.8,28.48 L391.7,28.41 L385.0,28.33 L353.9,28.26 L370.7,28.19 L399.7,28.11 L389.5,28.04 L388.9,27.97 L401.9,27.89 L393.9,27.82 L390.0,27.75 L379.1,27.68 L402.1,27.60 L348.9,27.53 L354.9,27.46 L385.6,27.39 L359.8,27.31 L385.0,27.24 L402.9,27.17 L363.7,27.10 L372.1,27.03 L393.6,26.95 L367.9,26.88 L377.5,26.81 L408.3,26.74 L406.4,26.67 L404.3,26.60 L369.6,26.52 L407.3,26.45 L393.3,26.38 L381.3,26.31 L391.9,26.24 L383.2,26.17 L368.9,26.10 L360.9,26.03 L406.5,25.96 L373.8,25.89 L403.5,25.82 L371.2,25.74 L390.6,25.67 L386.7,25.60 L371.6,25.53 L374.3,25.46 L363.3,25.39 L395.0,25.32 L395.9,25.25 L404.7,25.18 L380.0,25.11 L363.1,25.04 L385.0,24.98 L402.4,24.91 L377.9,24.84 L409.5,24.77 L390.1,24.70 L404.7,24.63 L378.0,24.56 L390.1,24.49 L402.8,24.42 L376.6,24.35 L377.3,24.28 L392.3,24.22 L358.7,24.15 L377.0,24.08 L366.6,24.01 L405.3,23.94 L422.4,23.87 L383.8,23.80 L369.2,23.74 L366.8,23.67 L382.1,23.60 L354.6,23.53 L391.5,23.46 L374.3,23.40 L347.7,23.33 L388.8,23.26 L402.5,23.19 L361.9,23.13 L347.4,23.06 L371.3,22.99 L368.9,22.92 L395.1,22.86 L366.5,22.79 L363.4,22.72 L378.6,22.66 L396.0,22.59 L390.6,22.52 L357.0,22.46 L369.5,22.39 L385.2,22.32 L371.8,22.26 L381.3,22.19 L400.3,22.12 L378.0,22.06 L360.3,21.99 L380.0,21.92 L358.5,21.86 L394.3,21.79 L359.1,21.73 L398.0,21.66 L367.8,21.59 L371.0,21.53 L393.9,21.46 L394.7,21.40 L353.2,21.33 L404.6,21.27 L386.7,21.20 L367.8,21.14 L362.3,21.07 L396.9,21.01 L347.9,20.94 L389.7,20.88 L387.7,20.81 L386.2,20.75 L380.6,20.68 L375.4,20.62 L371.5,20.55 L397.0,20.49 L377.7,20.42 L348.0,20.36 L363.7,20.29 L373.4,20.23 L389.2,20.17 L398.2,20.10 L363.0,20.04 L358.3,19.97 L400.1,19.91 L380.7,19.85 L404.2,19.78 L409.3,19.72 L404.5,19.65 L414.3,19.59 L404.7,19.53 L378.8,19.46 L392.8,19.40 L374.2,19.34 L352.5,19.27 L419.1,19.21 L384.3,19.15 L391.7,19.08 L399.3,19.02 L363.2,18.96 L386.9,18.90 L360.8,18.83 L367.2,18.77 L346.3,18.71 L374.5,18.65 L350.5,18.58 L396.0,18.52 L388.0,18.46 L362.8,18.40 L353.7,18.33 L386.4,18.27 L367.8,18.21 L391.8,18.15 L381.8,18.09 L367.0,18.02 L365.3,17.96 L410.8,17.90 L359.2,17.84 L398.9,17.78 L361.8,17.71 L392.8,17.65 L392.0,17.59 L385.3,17.53 L347.9,17.47 L389.6,17.41 L396.3,17.35 L376.5,17.29 L383.7,17.22 L382.9,17.16 L378.6,17.10 L390.1,17.04 L384.1,16.98 L398.4,16.92 L394.1,16.86 L382.4,16.80 L386.5,16.74 L390.5,16.68 L375.5,16.62 L372.3,16.56 L368.1,16.50 L373.9,16.44 L354.8,16.38 L408.9,16.32 L371.7,16.26 L396.7,16.20 L360.8,16.14 L383.2,16.08 L361.1,16.02 L361.4,15.96 L367.4,15.90 L370.7,15.84 L379.7,15.78 L397.4,15.72 L372.9,15.66 L382.6,15.60 L371.2,15.54 L389.7,15.48 L373.6,15.42 L361.3,15.36 L360.3,15.30 L395.8,15.25 L367.4,15.19 L400.0,15.13 L362.2,15.07 L397.3,15.01 L368.8,14.95 L393.5,14.89 L358.5,14.83 L384.2,14.78 L345.5,14.72 L364.4,14.66 L385.1,14.60 L404.2,14.54 L361.7,14.48 L400.0,14.43 L355.0,14.37 L391.0,14.31 L366.1,14.25 L368.8,14.19 L358.8,14.14 L372.8,14.08 L379.5,14.02 L368.1,13.96 L383.1,13.91 L386.4,13.85 L398.8,13.79 L359.7,13.73 L371.1,13.68 L386.0,13.62 L371.7,13.56 L361.9,13.50 L359.7,13.45 L400.9,13.39 L364.2,13.33 L363.7,13.28 L368.1,13.22 L387.3,13.16 L395.0,13.11 L381.8,13.05 L350.8,12.99 L396.7,12.94 L391.0,12.88 L384.7,12.82 L388.6,12.77 L352.4,12.71 L383.3,12.65 L395.0,12.60 L392.1,12.54 L353.4,12.49 L371.7,12.43 L348.0,12.37 L368.4,12.32 L370.9,12.26 L407.1,12.21 L393.8,12.15 L391.9,12.09 L378.2,12.04 L378.0,11.98 L375.5,11.93 L391.7,11.87 L404.0,11.82 L392.2,11.76 L402.5,11.71 L392.5,11.65 L387.0,11.59 L356.3,11.54 L397.3,11.48 L380.1,11.43 L377.6,11.37 L414.5,11.32 L383.4,11.26 L403.6,11.21 L375.3,11.15 L392.3,11.10 L397.2,11.05 L400.3,10.99 L389.9,10.94 L371.6,10.88 L374.8,10.83 L392.2,10.77 L382.2,10.72 L361.7,10.66 L355.4,10.61 L377.9,10.56 L364.7,10.50 L364.9,10.45 L364.5,10.39 L405.0,10.34 L358.6,10.29 L381.8,10.23 L344.7,10.18 L379.0,10.12 L392.3,10.07 L356.8,10.02 L354.6,9.96 L347.2,9.91 L385.8,9.86 L403.1,9.80 L391.4,9.75 L410.2,9.70 L366.7,9.64 L395.3,9.59 L358.8,9.54 L398.8,9.48 L358.5,9.43 L391.9,9.38 L384.5,9.32 L368.8,9.27 L368.8,9.22 L355.4,9.16 L395.1,9.11 L343.3,9.06 L399.0,9.01" stroke="#000" stroke-width="0.45" fill="none" stroke-linejoin="bevel"/>
<path d="M331,22.3H352" stroke="#000" stroke-width="1"/>
<path d="M332,11.2H350" stroke="#888" stroke-width="0.9"/>
<path d="M403.6,18.5H418" stroke="#999" stroke-width="0.8"/>
<path d="M404.1,21.2H428" stroke="#777" stroke-width="0.8"/>
<path d="M405.5,24.0H437" stroke="#666" stroke-width="0.8"/>
<path d="M406.3,26.3H433" stroke="#555" stroke-width="0.8"/>
<path d="M407.3,28.6H440" stroke="#777" stroke-width="0.8"/>
<path d="M409.0,31.0H425" stroke="#888" stroke-width="0.8"/>
<path d="M411.7,33.5H436" stroke="#999" stroke-width="0.8"/>
<path d="M415.2,36.2H432" stroke="#777" stroke-width="0.8"/>
<path d="M419.2,39.5H442" stroke="#888" stroke-width="0.8"/>
<path d="M430.5,46.5H446" stroke="#999" stroke-width="0.8"/>
<path d="M470,73.6 L511,74.2 L470,75.4 Z" fill="#000"/>
<path d="M434,140.2 Q480,140.2 505,142.6 Q525,145 538.5,148.8 L538.5,149 Q520,148.2 505,144.5 Q480,141.8 434,141.6 Z" fill="#000"/>
<path d="M504.2,40.6 L502.7,68" stroke="#333" stroke-width="0.8"/>
<path d="M502.6,72.6 L499.5,64.8 L502.8,67.6 L506,65 Z" fill="#000"/>
<text x="442.41" y="23.30" font-size="10.60" fill="#111" textLength="91.14" lengthAdjust="spacingAndGlyphs">Test mass reduced</text>
<text x="442.10" y="36.50" font-size="10.60" fill="#111" textLength="94.25" lengthAdjust="spacingAndGlyphs">frequency oscilation</text>
<rect x="330.5" y="9.5" width="208" height="139" fill="none" stroke="#8c8c8c" stroke-width="1.1"/>
<path d="M54.30,319.0V339.6M55.33,319.0V335.6M56.19,318.5V339.2M57.20,319.0V340.3M58.38,319.0V342.3M58.99,316.4V340.5M59.59,316.3V336.7M60.51,316.3V337.0M61.65,316.0V337.8M62.89,317.6V339.1M63.66,312.2V340.9M64.37,316.8V341.1M65.09,313.9V344.4M66.32,311.7V339.2M67.54,317.4V343.9M68.42,316.3V343.7M69.45,314.1V340.4M70.53,314.7V338.5M71.15,316.7V343.0M72.31,314.8V336.7M73.46,314.2V342.3M74.72,316.6V341.0M75.81,315.8V341.1M77.18,315.5V336.8M78.28,314.4V340.9M79.42,311.6V343.0M80.58,314.3V339.4M81.43,312.7V340.5M82.06,313.0V338.8M82.87,314.7V342.3M83.95,313.4V336.9M85.17,312.6V339.0M85.79,311.5V339.4M86.53,311.5V337.6M87.91,310.7V337.7M88.66,310.1V341.3M89.32,310.0V338.4M90.13,311.9V335.9M90.95,312.1V340.9M92.06,308.6V336.0M93.24,310.0V342.6M94.33,311.1V335.8M94.99,307.1V335.8M95.93,310.8V338.1M97.14,309.1V341.1M98.10,308.1V337.9M98.79,306.0V339.6M99.53,306.2V336.6M100.51,307.1V338.4M101.76,308.2V340.5M102.39,307.0V340.1M103.06,307.8V339.2M103.82,307.5V340.3M105.12,306.2V338.3M106.37,309.6V335.4M107.72,309.1V335.5M108.66,306.6V339.6M109.97,303.2V334.4M110.88,306.2V335.7M111.58,302.8V337.2M112.60,304.4V336.6M113.76,298.4V334.7M115.11,298.2V338.1M116.31,300.2V337.1M116.97,305.3V333.8M118.01,300.3V336.5M118.72,300.0V334.8M119.33,301.1V338.3M120.30,302.1V338.2M121.47,305.5V333.2M122.76,296.1V335.4M124.01,300.2V334.1M124.86,302.1V335.2M126.08,295.3V333.5M127.35,302.2V334.9M128.51,296.4V336.9M129.83,298.3V334.1M130.90,295.7V337.1M132.18,300.9V331.8M133.42,298.2V333.5M134.51,296.7V331.8M135.32,295.4V333.2M136.56,298.4V331.1M137.49,293.2V330.3M138.32,300.7V332.0M139.46,298.7V330.4M140.17,293.4V332.3M141.53,291.4V331.5M142.91,287.0V330.2M144.17,293.0V333.5M145.44,292.5V329.4M146.31,293.6V329.3M147.16,296.1V328.8M147.89,288.4V332.3M148.84,286.2V330.4M149.50,284.5V330.8M150.71,294.4V328.8M151.46,294.6V328.6M152.64,286.8V329.7M153.52,285.6V326.9M154.90,294.5V327.9M156.28,294.5V329.3M157.35,287.4V327.7M158.28,286.9V324.3M159.12,289.0V327.1M159.99,283.1V325.5M161.32,286.5V328.0M162.07,283.8V326.5M163.22,289.4V323.6M164.32,285.9V323.4M165.07,287.7V327.1M165.76,284.6V326.5M166.84,280.8V326.0M168.02,287.1V325.2M168.87,282.8V323.4M169.71,287.5V321.1M170.48,282.5V323.8M171.35,281.9V319.1M172.16,287.1V318.5M173.52,281.0V320.7M174.26,279.5V320.7M175.04,277.1V318.4M176.16,278.3V320.5M176.86,283.8V324.1M177.90,282.2V317.0M179.01,277.9V322.3M180.27,279.0V320.8M181.07,266.8V317.5M182.32,277.2V317.8M183.68,280.3V316.9M184.82,278.2V314.6M186.15,279.6V314.1M186.82,270.8V312.0M188.09,268.4V312.9M189.19,272.4V315.8M190.59,272.0V314.6M191.51,269.6V310.5M192.63,271.8V316.4M193.88,273.5V308.7M195.24,267.3V308.7M196.35,256.0V309.5M197.27,262.6V314.1M197.89,265.7V306.5M198.75,267.5V311.8M200.08,270.6V305.8M201.24,268.1V311.5M201.88,263.2V307.9M203.07,262.2V308.8M204.03,257.3V308.3M204.86,262.3V307.1M205.47,265.7V306.6M206.85,260.0V306.2M207.75,259.4V311.4M209.05,264.2V309.1M210.33,259.5V305.5M211.55,265.6V303.2M212.35,262.3V308.4M213.43,263.6V302.3M214.56,255.6V301.5M215.41,259.3V303.3M216.15,262.6V304.8M216.91,252.6V306.1M217.64,258.0V306.0M218.25,260.3V307.3M219.15,261.2V308.5M220.49,251.5V300.0M221.41,256.3V306.1M222.64,249.2V299.6M223.26,254.1V299.5M223.96,256.1V305.3M225.31,248.2V299.3M226.11,257.1V302.3M226.93,250.6V298.7M227.77,254.8V304.5M228.38,245.5V297.9M229.67,252.9V305.0M230.67,253.0V296.5M231.93,243.9V300.5M232.68,244.0V301.1M233.96,249.9V295.0M234.78,247.9V302.3M235.88,239.9V295.0M236.79,246.9V301.5M237.76,239.1V296.5M239.05,244.6V295.0M239.81,247.4V295.0M241.17,247.8V300.0M241.85,234.7V291.9M242.62,242.3V291.8M243.67,246.1V294.7M244.99,231.8V297.9M246.21,235.7V294.1M247.26,227.2V294.5M248.56,238.7V293.9M249.84,232.4V289.9M250.79,236.0V299.5M252.00,229.6V289.1M253.32,237.2V288.2M254.69,214.0V298.4M255.72,229.2V293.0M256.86,222.2V285.0M257.52,232.9V292.5M258.37,221.3V288.7M259.14,233.0V283.9M260.45,219.9V288.4M261.60,227.0V286.5M262.90,226.3V284.0" stroke="#2a8bcb" stroke-width="0.8" fill="none"/>
<path d="M54.30,319.4V338.4M55.33,319.4V335.6M56.19,318.9V338.1M57.20,319.3V338.9M58.38,319.2V340.3M58.99,317.4V339.1M59.59,317.2V336.4M60.51,317.2V336.7M61.65,316.9V337.3M62.89,318.0V338.2M63.66,314.1V339.4M64.37,317.3V339.6M65.09,315.3V341.9M66.32,313.7V338.3M67.54,317.5V341.6M68.42,316.7V341.5M69.45,315.2V339.2M70.53,315.5V337.9M71.15,316.9V341.0M72.31,315.5V336.6M73.46,315.0V340.5M74.72,316.6V339.6M75.81,316.0V339.8M77.18,315.8V336.7M78.28,314.9V339.6M79.42,312.8V341.1M80.58,314.7V338.5M81.43,313.5V339.3M82.06,313.6V338.0M82.87,314.8V340.5M83.95,313.9V336.7M85.17,313.1V338.2M85.79,312.3V338.4M86.53,312.4V337.1M87.91,311.7V337.2M88.66,311.2V339.7M89.32,311.1V337.6M90.13,312.4V335.9M90.95,312.5V339.4M92.06,310.0V336.0M93.24,310.8V340.5M94.33,311.5V335.7M94.99,308.7V335.8M95.93,311.3V337.3M97.14,310.0V339.4M98.10,309.2V337.2M98.79,307.7V338.3M99.53,307.7V336.2M100.51,308.3V337.5M101.76,309.0V338.9M102.39,308.1V338.6M103.06,308.6V337.9M103.82,308.3V338.7M105.12,307.3V337.2M106.37,309.6V335.2M107.72,309.1V335.2M108.66,307.3V338.1M109.97,304.9V334.4M110.88,306.9V335.3M111.58,304.4V336.3M112.60,305.5V335.8M113.76,301.2V334.5M115.11,301.0V336.8M116.31,302.2V336.1M116.97,305.8V333.8M118.01,302.2V335.6M118.72,301.9V334.4M119.33,302.6V336.8M120.30,303.3V336.7M121.47,305.6V333.1M122.76,298.8V334.6M124.01,301.6V333.6M124.86,302.9V334.4M126.08,298.0V333.1M127.35,302.7V334.0M128.51,298.6V335.3M129.83,299.8V333.3M130.90,297.9V335.3M132.18,301.5V331.5M133.42,299.4V332.6M134.51,298.3V331.4M135.32,297.3V332.4M136.56,299.3V330.8M137.49,295.6V330.2M138.32,300.8V331.3M139.46,299.3V330.2M140.17,295.5V331.4M141.53,294.0V330.7M142.91,290.8V329.8M144.17,294.9V332.0M145.44,294.3V329.0M146.31,295.0V328.9M147.16,296.7V328.4M147.89,291.3V330.8M148.84,289.6V329.4M149.50,288.3V329.6M150.71,295.1V328.1M151.46,295.2V327.9M152.64,289.6V328.6M153.52,288.7V326.5M154.90,294.7V327.1M156.28,294.6V328.0M157.35,289.5V326.8M158.28,289.1V324.3M159.12,290.4V326.2M159.99,286.2V325.0M161.32,288.4V326.6M162.07,286.5V325.5M163.22,290.3V323.4M164.32,287.7V323.1M165.07,288.8V325.6M165.76,286.6V325.1M166.84,283.7V324.6M168.02,287.9V323.8M168.87,284.7V322.4M169.71,287.9V320.7M170.48,284.3V322.5M171.35,283.7V319.0M172.16,287.2V318.5M173.52,282.7V319.8M174.26,281.5V319.7M175.04,279.7V318.0M176.16,280.4V319.3M176.86,284.1V321.7M177.90,282.8V316.6M179.01,279.6V320.1M180.27,280.2V318.8M181.07,271.5V316.5M182.32,278.6V316.5M183.68,280.5V315.7M184.82,278.8V313.9M186.15,279.6V313.4M186.82,273.4V311.8M188.09,271.4V312.3M189.19,274.1V314.2M190.59,273.5V313.1M191.51,271.7V310.2M192.63,273.1V314.1M193.88,274.0V308.6M195.24,269.5V308.4M196.35,261.4V308.8M197.27,265.9V311.9M197.89,268.0V306.5M198.75,269.0V310.1M200.08,271.0V305.7M201.24,269.1V309.6M201.88,265.5V307.0M203.07,264.7V307.6M204.03,261.1V307.1M204.86,264.4V306.2M205.47,266.7V305.8M206.85,262.5V305.5M207.75,261.9V309.0M209.05,265.0V307.3M210.33,261.6V304.7M211.55,265.6V302.9M212.35,263.2V306.5M213.43,263.9V302.2M214.56,258.1V301.5M215.41,260.6V302.7M216.15,262.8V303.7M216.91,255.6V304.5M217.64,259.3V304.4M218.25,260.8V305.2M219.15,261.3V306.0M220.49,254.3V299.9M221.41,257.5V304.1M222.64,252.2V299.4M223.26,255.6V299.3M223.96,256.9V303.3M225.31,251.1V298.9M226.11,257.1V301.0M226.93,252.4V298.3M227.77,255.3V302.3M228.38,248.6V297.6M229.67,253.5V302.4M230.67,253.4V296.4M231.93,246.8V299.0M232.68,246.8V299.3M233.96,250.6V294.9M234.78,249.1V300.0M235.88,243.3V294.7M236.79,248.1V299.2M237.76,242.4V295.6M239.05,246.0V294.4M239.81,247.8V294.3M241.17,247.9V297.6M241.85,238.5V291.8M242.62,243.7V291.6M243.67,246.2V293.6M244.99,235.9V295.6M246.21,238.4V292.8M247.26,232.3V292.9M248.56,240.1V292.4M249.84,235.5V289.4M250.79,237.7V296.0M252.00,232.9V288.6M253.32,237.9V287.8M254.69,221.2V294.7M255.72,231.5V290.8M256.86,226.3V285.0M257.52,233.6V290.1M258.37,225.3V287.3M259.14,233.2V283.8M260.45,223.7V286.8M261.60,228.3V285.2M262.90,227.5V283.3" stroke="#0a75be" stroke-width="0.9" fill="none"/>
<path d="M54.00,320.6 L54.60,318.4 L55.20,320.6 L55.80,318.7 L56.40,320.2 L57.00,319.6 L57.60,320.5 L58.20,320.4 L58.80,318.8 L59.40,320.6 L60.00,318.4 L60.60,319.4 L61.20,320.7 L61.80,319.6 L62.40,318.2 L63.00,318.7 L63.60,317.9 L64.20,319.5 L64.80,318.2 L65.40,318.6 L66.00,318.0 L66.60,318.7 L67.20,318.4 L67.80,318.3 L68.40,318.0 L69.00,316.8 L69.60,318.6 L70.20,318.3 L70.80,316.1 L71.40,315.8 L72.00,316.0 L72.60,317.0 L73.20,317.6 L73.80,315.7 L74.40,317.4 L75.00,317.4 L75.60,317.5 L76.20,316.3 L76.80,317.0 L77.40,315.8 L78.00,315.7 L78.60,316.1 L79.20,315.7 L79.80,315.8 L80.40,316.6 L81.00,315.8 L81.60,315.2 L82.20,314.6 L82.80,312.9 L83.40,315.9 L84.00,315.2 L84.60,314.9 L85.20,314.3 L85.80,312.3 L86.40,314.1 L87.00,314.7 L87.60,314.2 L88.20,313.5 L88.80,313.4 L89.40,315.5 L90.00,313.1 L90.60,313.6 L91.20,312.6 L91.80,314.8 L92.40,311.6 L93.00,312.1 L93.60,313.2 L94.20,311.2 L94.80,313.0 L95.40,311.9 L96.00,312.2 L96.60,312.2 L97.20,312.8 L97.80,310.9 L98.40,312.8 L99.00,311.4 L99.60,310.0 L100.20,309.9 L100.80,308.9 L101.40,310.4 L102.00,311.1 L102.60,311.6 L103.20,311.1 L103.80,310.1 L104.40,312.1 L105.00,310.6 L105.60,309.4 L106.20,309.3 L106.80,311.4 L107.40,309.6 L108.00,308.6 L108.60,308.7 L109.20,308.1 L109.80,307.6 L110.40,307.3 L111.00,307.2 L111.60,307.8 L112.20,309.1 L112.80,306.2 L113.40,305.1 L114.00,307.2 L114.60,307.5 L115.20,309.0 L115.80,308.8 L116.40,306.4 L117.00,307.9 L117.60,306.7 L118.20,305.4 L118.80,305.4 L119.40,305.9 L120.00,307.4 L120.60,305.9 L121.20,306.9 L121.80,305.1 L122.40,306.3 L123.00,304.6 L123.60,305.7 L124.20,305.0 L124.80,304.7 L125.40,302.7 L126.00,303.3 L126.60,303.0 L127.20,302.7 L127.80,303.4 L128.40,304.9 L129.00,302.7 L129.60,303.7 L130.20,303.7 L130.80,303.9 L131.40,303.6 L132.00,302.2 L132.60,302.6 L133.20,302.7 L133.80,301.8 L134.40,302.8 L135.00,301.1 L135.60,302.1 L136.20,299.9 L136.80,300.9 L137.40,300.5 L138.00,300.1 L138.60,301.2 L139.20,298.2 L139.80,300.6 L140.40,301.3 L141.00,298.4 L141.60,301.1 L142.20,299.6 L142.80,299.4 L143.40,298.9 L144.00,299.7 L144.60,299.9 L145.20,298.9 L145.80,298.3 L146.40,299.4 L147.00,298.1 L147.60,298.1 L148.20,297.4 L148.80,297.8 L149.40,297.7 L150.00,296.4 L150.60,295.7 L151.20,296.5 L151.80,295.3 L152.40,296.1 L153.00,296.9 L153.60,295.5 L154.20,293.4 L154.80,294.5 L155.40,295.3 L156.00,295.1 L156.60,294.0 L157.20,297.6 L157.80,294.7 L158.40,293.4 L159.00,295.2 L159.60,294.4 L160.20,295.6 L160.80,293.7 L161.40,293.2 L162.00,291.7 L162.60,292.6 L163.20,291.3 L163.80,293.0 L164.40,291.1 L165.00,293.6 L165.60,291.0 L166.20,292.8 L166.80,289.1 L167.40,289.7 L168.00,288.6 L168.60,288.4 L169.20,289.1 L169.80,287.2 L170.40,289.0 L171.00,288.0 L171.60,287.3 L172.20,287.1 L172.80,286.7 L173.40,289.2 L174.00,286.2 L174.60,285.9 L175.20,285.4 L175.80,286.3 L176.40,285.3 L177.00,284.9 L177.60,282.8 L178.20,284.0 L178.80,284.7 L179.40,282.6 L180.00,284.1 L180.60,283.0 L181.20,282.7 L181.80,280.2 L182.40,282.3 L183.00,280.9 L183.60,280.9 L184.20,281.7 L184.80,281.7 L185.40,281.1 L186.00,280.0 L186.60,279.5 L187.20,278.7 L187.80,277.4 L188.40,278.6 L189.00,278.6 L189.60,276.0 L190.20,278.7 L190.80,277.0 L191.40,275.8 L192.00,276.5 L192.60,274.5 L193.20,273.2 L193.80,275.2 L194.40,276.4 L195.00,274.5 L195.60,275.8 L196.20,274.6 L196.80,273.4 L197.40,272.7 L198.00,273.7 L198.60,272.5 L199.20,272.9 L199.80,272.8 L200.40,273.1 L201.00,272.2 L201.60,271.2 L202.20,273.3 L202.80,270.9 L203.40,268.9 L204.00,269.4 L204.60,268.3 L205.20,270.3 L205.80,268.8 L206.40,267.0 L207.00,268.5 L207.60,268.0 L208.20,267.0 L208.80,266.5 L209.40,267.2 L210.00,266.8 L210.60,265.8 L211.20,264.1 L211.80,265.8 L212.40,264.7 L213.00,263.8 L213.60,264.4 L214.20,264.9 L214.80,260.7 L215.40,263.7 L216.00,263.3 L216.60,263.5 L217.20,264.1 L217.80,263.0 L218.40,261.7 L219.00,262.8 L219.60,261.7 L220.20,260.8 L220.80,260.7 L221.40,261.0 L222.00,261.0 L222.60,258.9 L223.20,258.8 L223.80,257.4 L224.40,259.1 L225.00,257.7 L225.60,259.0 L226.20,258.5 L226.80,257.0 L227.40,256.7 L228.00,255.4 L228.60,255.1 L229.20,255.4 L229.80,254.8 L230.40,256.1 L231.00,253.7 L231.60,254.4 L232.20,253.3 L232.80,253.2 L233.40,253.1 L234.00,251.4 L234.60,252.7 L235.20,252.8 L235.80,252.3 L236.40,250.8 L237.00,249.8 L237.60,251.0 L238.20,249.3 L238.80,249.6 L239.40,247.5 L240.00,247.4 L240.60,248.1 L241.20,247.8 L241.80,246.7 L242.40,245.7 L243.00,247.1 L243.60,245.0 L244.20,245.4 L244.80,246.4 L245.40,245.3 L246.00,245.3 L246.60,244.7 L247.20,244.4 L247.80,243.7 L248.40,242.6 L249.00,244.1 L249.60,242.9 L250.20,242.4 L250.80,244.4 L251.40,240.3 L252.00,241.6 L252.60,240.2 L253.20,238.3 L253.80,238.4 L254.40,237.9 L255.00,236.4 L255.60,236.7 L256.20,237.3 L256.80,237.2 L257.40,235.7 L258.00,235.0 L258.60,234.1 L259.20,233.0 L259.80,232.8 L260.40,232.9 L261.00,230.7 L261.60,231.2 L262.20,231.0 L262.80,230.6 L263.40,228.6 L264.00,230.9 L264.00,280.6 L263.40,281.2 L262.80,281.8 L262.20,280.2 L261.60,282.1 L261.00,282.9 L260.40,283.8 L259.80,283.8 L259.20,283.2 L258.60,285.5 L258.00,284.1 L257.40,284.7 L256.80,284.7 L256.20,285.2 L255.60,285.0 L255.00,288.0 L254.40,285.8 L253.80,285.6 L253.20,287.4 L252.60,287.8 L252.00,285.4 L251.40,288.4 L250.80,286.9 L250.20,287.3 L249.60,287.0 L249.00,288.0 L248.40,287.6 L247.80,289.0 L247.20,289.5 L246.60,290.1 L246.00,289.0 L245.40,291.0 L244.80,290.4 L244.20,291.4 L243.60,291.5 L243.00,290.5 L242.40,291.5 L241.80,292.5 L241.20,292.4 L240.60,292.1 L240.00,292.2 L239.40,292.0 L238.80,292.2 L238.20,293.5 L237.60,294.9 L237.00,293.1 L236.40,292.4 L235.80,294.0 L235.20,294.4 L234.60,295.5 L234.00,292.4 L233.40,293.5 L232.80,295.5 L232.20,295.2 L231.60,295.4 L231.00,295.6 L230.40,296.1 L229.80,296.1 L229.20,296.3 L228.60,297.0 L228.00,296.9 L227.40,296.8 L226.80,297.2 L226.20,297.9 L225.60,297.5 L225.00,297.7 L224.40,299.7 L223.80,298.6 L223.20,297.5 L222.60,300.3 L222.00,298.8 L221.40,297.1 L220.80,300.7 L220.20,299.9 L219.60,298.9 L219.00,302.4 L218.40,299.3 L217.80,299.1 L217.20,300.8 L216.60,301.7 L216.00,301.5 L215.40,301.4 L214.80,300.0 L214.20,302.6 L213.60,300.2 L213.00,300.6 L212.40,301.9 L211.80,302.3 L211.20,303.5 L210.60,304.4 L210.00,302.6 L209.40,303.2 L208.80,302.2 L208.20,302.3 L207.60,303.2 L207.00,302.6 L206.40,304.3 L205.80,303.9 L205.20,304.7 L204.60,303.7 L204.00,303.5 L203.40,303.8 L202.80,305.9 L202.20,304.7 L201.60,304.5 L201.00,305.0 L200.40,306.5 L199.80,305.9 L199.20,305.5 L198.60,306.0 L198.00,306.3 L197.40,305.7 L196.80,307.6 L196.20,307.0 L195.60,306.7 L195.00,308.1 L194.40,307.8 L193.80,308.9 L193.20,308.4 L192.60,307.2 L192.00,309.5 L191.40,310.3 L190.80,309.8 L190.20,309.1 L189.60,309.4 L189.00,309.4 L188.40,309.8 L187.80,309.7 L187.20,311.7 L186.60,310.2 L186.00,312.9 L185.40,311.2 L184.80,312.3 L184.20,311.5 L183.60,312.7 L183.00,312.0 L182.40,313.5 L181.80,314.9 L181.20,313.9 L180.60,315.4 L180.00,314.0 L179.40,315.5 L178.80,314.6 L178.20,315.7 L177.60,315.1 L177.00,315.1 L176.40,317.5 L175.80,317.3 L175.20,316.9 L174.60,317.4 L174.00,317.5 L173.40,318.4 L172.80,317.5 L172.20,317.3 L171.60,318.0 L171.00,316.0 L170.40,319.8 L169.80,319.2 L169.20,318.7 L168.60,320.5 L168.00,320.2 L167.40,320.5 L166.80,321.1 L166.20,322.5 L165.60,322.7 L165.00,322.5 L164.40,321.7 L163.80,322.1 L163.20,323.3 L162.60,321.9 L162.00,322.9 L161.40,322.3 L160.80,324.0 L160.20,322.2 L159.60,323.7 L159.00,324.2 L158.40,324.4 L157.80,324.3 L157.20,324.9 L156.60,325.4 L156.00,324.3 L155.40,323.4 L154.80,324.8 L154.20,326.1 L153.60,326.9 L153.00,323.5 L152.40,327.1 L151.80,329.0 L151.20,327.1 L150.60,326.2 L150.00,326.3 L149.40,327.4 L148.80,328.0 L148.20,328.2 L147.60,327.9 L147.00,327.6 L146.40,328.9 L145.80,328.8 L145.20,326.7 L144.60,326.7 L144.00,326.8 L143.40,327.4 L142.80,327.7 L142.20,329.8 L141.60,328.5 L141.00,329.0 L140.40,330.2 L139.80,328.9 L139.20,330.1 L138.60,327.8 L138.00,329.3 L137.40,329.6 L136.80,331.4 L136.20,329.0 L135.60,330.3 L135.00,330.8 L134.40,331.0 L133.80,329.1 L133.20,330.7 L132.60,330.8 L132.00,330.8 L131.40,330.3 L130.80,331.8 L130.20,332.6 L129.60,331.9 L129.00,333.3 L128.40,331.5 L127.80,332.3 L127.20,331.5 L126.60,331.7 L126.00,332.4 L125.40,332.2 L124.80,331.1 L124.20,333.6 L123.60,332.5 L123.00,330.9 L122.40,335.1 L121.80,332.6 L121.20,333.3 L120.60,333.6 L120.00,333.2 L119.40,334.9 L118.80,332.0 L118.20,333.1 L117.60,333.3 L117.00,333.5 L116.40,332.9 L115.80,334.9 L115.20,333.4 L114.60,333.5 L114.00,332.6 L113.40,334.2 L112.80,334.4 L112.20,334.1 L111.60,333.8 L111.00,334.8 L110.40,334.8 L109.80,334.0 L109.20,334.3 L108.60,334.6 L108.00,334.4 L107.40,333.0 L106.80,332.8 L106.20,334.6 L105.60,336.4 L105.00,335.6 L104.40,335.6 L103.80,337.7 L103.20,334.1 L102.60,335.6 L102.00,335.4 L101.40,335.3 L100.80,333.8 L100.20,335.2 L99.60,335.2 L99.00,336.8 L98.40,333.6 L97.80,335.7 L97.20,335.9 L96.60,334.4 L96.00,334.6 L95.40,336.1 L94.80,335.6 L94.20,335.9 L93.60,335.4 L93.00,335.9 L92.40,334.2 L91.80,336.7 L91.20,334.9 L90.60,336.3 L90.00,335.5 L89.40,337.5 L88.80,335.6 L88.20,335.0 L87.60,336.3 L87.00,336.0 L86.40,333.9 L85.80,336.3 L85.20,336.0 L84.60,335.5 L84.00,335.9 L83.40,335.4 L82.80,336.4 L82.20,335.1 L81.60,336.1 L81.00,336.1 L80.40,335.9 L79.80,337.8 L79.20,336.4 L78.60,336.6 L78.00,336.0 L77.40,335.8 L76.80,336.8 L76.20,337.0 L75.60,336.7 L75.00,336.7 L74.40,336.3 L73.80,336.6 L73.20,337.1 L72.60,334.7 L72.00,336.5 L71.40,336.0 L70.80,335.7 L70.20,336.5 L69.60,336.9 L69.00,336.9 L68.40,335.1 L67.80,337.9 L67.20,336.6 L66.60,337.0 L66.00,334.6 L65.40,335.5 L64.80,335.8 L64.20,336.4 L63.60,335.3 L63.00,334.8 L62.40,335.6 L61.80,334.3 L61.20,336.4 L60.60,337.7 L60.00,336.4 L59.40,334.3 L58.80,334.5 L58.20,334.3 L57.60,334.9 L57.00,335.0 L56.40,336.1 L55.80,336.6 L55.20,334.9 L54.60,336.8 L54.00,336.6Z" fill="#0072bd"/>
<text x="101.77" y="264.50" font-size="10.60" fill="#111" textLength="86.06" lengthAdjust="spacingAndGlyphs">Displacement drift</text>
<rect x="54.5" y="206.5" width="209" height="139" fill="none" stroke="#8c8c8c" stroke-width="1.1"/>
<path d="M330.2,207.8 L334.5,211.6 L338.9,214.9 L342.2,216.2 L347.1,216.5 L350.4,222 L352.5,219.3 L355.3,222 L356.9,220.9 L358.5,224.2 L360.2,223.1 L361.8,225.8 L363.4,224.7 L365.1,227.4 L366.2,226.2 L367.3,228.6 L368.3,227.4 L369.4,229.2" stroke="#111" stroke-width="0.8" fill="none"/>
<path d="M369.20,228.6V229.9M370.18,228.9V230.3M371.71,229.6V231.1M373.12,230.2V231.9M375.22,231.1V233.0M376.78,231.7V233.8M377.74,232.1V234.3M380.34,233.3V235.7M382.80,234.1V237.0M383.23,234.4V237.2M385.01,235.2V238.2M387.09,236.0V239.1M387.76,236.4V239.5M388.46,236.7V240.1M390.11,237.5V240.9M390.73,237.7V241.2M391.60,238.2V241.7M392.54,238.7V242.0M393.83,239.1V243.0M396.14,240.1V243.9M396.99,240.8V244.5M397.97,241.1V245.1M398.59,241.3V245.0M399.16,241.5V245.6M400.04,242.3V245.7M403.22,243.6V247.6M404.83,244.4V248.3M405.58,244.8V248.7M407.03,245.0V249.7M409.30,246.4V250.8M410.56,246.5V251.3M411.35,246.9V251.7M411.86,247.6V252.1M412.46,247.9V252.1M413.36,248.2V252.8M414.89,248.5V253.5M415.75,249.0V253.8M419.12,250.1V255.4M419.77,250.7V255.6M420.74,251.0V256.0M421.29,251.0V256.3M422.55,251.9V257.1M426.39,253.4V258.4M426.99,253.4V258.6M427.53,253.7V259.6M429.18,254.3V260.5M429.76,254.5V260.4M431.08,255.1V262.3M432.84,255.7V262.2M433.43,255.3V262.8M435.24,255.6V264.1M436.01,256.4V267.5M438.52,257.0V266.8M439.39,257.2V271.5M440.14,257.4V270.6M440.90,256.7V273.4M441.32,256.3V269.8M442.20,255.2V276.2M444.58,257.0V281.5M445.93,259.6V275.5M446.57,259.2V276.3M446.98,257.3V276.4M448.33,256.4V280.1M451.08,255.2V286.5M451.62,254.6V286.2M452.51,253.9V281.1M453.69,250.1V280.4M454.49,255.3V280.9M455.43,253.8V279.2M456.18,252.3V285.7M457.06,249.7V280.2M457.73,252.3V277.8M458.21,251.7V279.2M460.03,246.2V278.6M462.28,251.8V282.9M463.04,245.1V281.0M468.59,242.3V284.2M472.19,252.6V295.9M472.61,254.5V289.4M473.98,259.5V293.0M479.55,272.3V308.3M480.20,271.3V301.5M481.62,273.8V303.2M483.89,273.9V307.9M484.87,275.0V313.1M485.73,273.4V311.4M487.18,273.7V311.5M489.50,273.4V310.1M491.20,270.5V309.7M491.63,276.4V314.2M492.57,275.4V315.2M493.43,274.6V309.4M495.78,272.4V310.4M498.33,273.3V311.0M499.20,271.4V314.6M500.07,271.6V311.9M500.89,271.6V315.3M502.33,271.9V322.2M506.03,271.1V319.7M506.44,274.7V318.4M507.06,267.5V326.8M507.56,273.8V318.1M509.36,275.3V319.9M510.20,273.0V329.3M510.92,273.0V321.0M511.44,276.6V321.9M512.21,275.5V324.5M513.18,276.1V325.3M514.41,270.5V324.1M515.30,278.2V335.9M516.00,270.2V335.4M517.19,270.3V332.5M518.00,278.2V330.8M519.49,271.5V332.0M521.30,277.2V328.8M521.79,277.4V340.8M522.45,280.9V332.6M523.12,278.7V341.5M524.05,281.6V332.9M524.72,281.6V333.3M525.69,281.1V329.8M526.46,280.8V334.7M527.91,280.7V333.1M528.43,281.9V336.3M529.34,281.9V342.7M530.02,282.9V345.5M530.81,281.6V337.9M531.70,282.2V331.6M532.40,282.0V333.9M533.74,281.2V344.4M534.73,281.2V331.8M535.41,284.1V332.1M536.21,282.9V345.6M536.90,283.8V335.2M537.77,282.8V330.1M538.55,282.6V344.9" stroke="#000" stroke-width="0.55" fill="none"/>
<path d="M370.81,229.3V230.6M372.52,229.9V231.6M373.58,230.4V232.1M374.50,230.8V232.7M376.06,231.4V233.4M378.56,232.4V234.8M379.53,232.8V235.3M381.22,233.5V236.2M382.13,234.0V236.7M384.12,234.6V237.7M385.65,235.5V238.4M386.59,235.8V238.9M389.38,237.1V240.5M393.39,239.1V242.5M394.72,239.6V243.4M395.43,239.7V243.3M397.47,240.9V244.5M400.95,242.2V246.3M401.74,243.1V247.0M402.31,243.0V247.2M404.10,243.6V248.0M406.36,245.1V249.3M407.49,245.2V249.8M408.35,246.0V250.2M410.15,246.8V250.8M412.91,248.0V252.5M414.36,248.1V253.1M416.71,249.3V254.3M417.66,250.0V254.7M418.47,249.7V255.0M422.09,251.1V256.8M423.06,252.1V257.0M423.92,252.2V257.6M424.88,252.9V257.8M425.80,253.0V258.7M428.51,254.3V259.8M430.26,255.0V260.4M431.99,255.5V261.5M434.33,256.0V263.7M436.77,256.7V265.6M437.55,256.5V267.1M443.17,258.8V271.8M444.13,256.8V282.4M445.40,258.1V274.7M447.45,253.8V285.8M449.11,251.3V280.1M450.08,251.2V284.1M453.15,251.2V288.5M459.20,249.5V277.7M460.87,248.6V281.3M461.87,252.5V279.7M463.50,251.5V278.4M464.07,251.5V283.4M464.95,251.6V280.2M465.65,245.3V280.9M466.18,246.8V284.0M466.81,243.5V282.6M467.36,243.2V280.3M468.10,244.5V280.9M469.47,241.5V282.0M470.28,244.3V285.4M471.22,245.8V285.2M473.28,250.4V295.0M474.91,260.1V299.3M475.70,266.0V305.0M476.15,261.2V298.3M477.04,262.6V297.4M477.63,264.9V298.2M478.61,269.6V303.2M481.01,271.9V302.5M482.29,273.3V304.6M482.92,274.3V312.1M486.73,274.6V305.2M487.65,276.4V311.0M488.60,276.0V306.4M490.34,272.0V308.1M494.00,275.4V316.6M494.88,275.1V317.0M496.42,273.9V309.9M497.05,272.3V310.4M497.90,273.5V311.2M501.43,271.5V313.7M503.07,271.0V320.3M503.94,273.5V315.3M504.79,271.2V319.9M505.21,274.4V318.7M508.19,268.0V321.4M508.83,270.9V322.4M513.77,276.0V332.3M516.67,272.9V330.0M518.89,278.0V327.7M520.36,276.9V339.7M527.26,278.2V333.5M533.30,281.8V331.4" stroke="#555" stroke-width="0.5" fill="none"/>
<path d="M369.00,228.8 L369.50,228.5 L370.00,228.8 L370.50,229.5 L371.00,229.8 L371.50,229.3 L372.00,229.4 L372.50,230.5 L373.00,230.4 L373.50,230.4 L374.00,230.4 L374.50,230.7 L375.00,230.6 L375.50,231.6 L376.00,231.5 L376.50,231.7 L377.00,232.8 L377.50,232.2 L378.00,231.8 L378.50,232.2 L379.00,233.0 L379.50,233.3 L380.00,233.1 L380.50,233.1 L381.00,233.8 L381.50,233.2 L382.00,233.4 L382.50,234.0 L383.00,234.4 L383.50,234.5 L384.00,234.7 L384.50,234.3 L385.00,234.9 L385.50,235.2 L386.00,235.3 L386.50,235.5 L387.00,236.2 L387.50,236.1 L388.00,236.1 L388.50,237.1 L389.00,237.0 L389.50,236.5 L390.00,237.6 L390.50,238.5 L391.00,238.3 L391.50,238.6 L392.00,238.9 L392.50,238.8 L393.00,238.6 L393.50,239.6 L394.00,238.9 L394.50,239.7 L395.00,240.1 L395.50,240.2 L396.00,240.2 L396.50,240.2 L397.00,241.6 L397.50,241.4 L398.00,241.1 L398.50,241.2 L399.00,241.9 L399.50,242.1 L400.00,242.4 L400.50,243.1 L401.00,242.5 L401.50,243.2 L402.00,243.9 L402.50,242.8 L403.00,243.6 L403.50,244.5 L404.00,243.6 L404.50,244.6 L405.00,243.8 L405.50,244.6 L406.00,244.9 L406.50,245.0 L407.00,245.6 L407.50,245.9 L408.00,246.3 L408.50,246.0 L409.00,246.0 L409.50,247.0 L410.00,246.5 L410.50,247.2 L411.00,247.0 L411.50,247.7 L412.00,248.8 L412.50,248.2 L413.00,249.3 L413.50,248.1 L414.00,248.6 L414.50,248.9 L415.00,249.0 L415.50,249.5 L416.00,249.7 L416.50,249.7 L417.00,250.5 L417.50,249.7 L418.00,250.0 L418.50,249.5 L419.00,250.7 L419.50,250.7 L420.00,251.2 L420.50,250.9 L421.00,251.1 L421.50,251.6 L422.00,251.6 L422.50,252.1 L423.00,252.3 L423.50,252.4 L424.00,252.9 L424.50,252.3 L425.00,253.0 L425.50,253.7 L426.00,253.7 L426.50,253.5 L427.00,253.3 L427.50,254.1 L428.00,254.3 L428.50,254.5 L429.00,254.1 L429.50,254.5 L430.00,255.4 L430.50,253.8 L431.00,255.6 L431.50,256.1 L432.00,255.8 L432.50,255.7 L433.00,256.0 L433.50,255.1 L434.00,255.5 L434.50,255.9 L435.00,255.9 L435.50,255.9 L436.00,257.6 L436.50,256.3 L437.00,257.2 L437.50,256.1 L438.00,256.2 L438.50,257.2 L439.00,257.5 L439.50,256.9 L440.00,257.4 L440.50,258.3 L441.00,258.4 L441.50,257.8 L442.00,259.1 L442.50,259.2 L443.00,259.2 L443.50,258.4 L444.00,258.9 L444.50,259.6 L445.00,259.6 L445.50,259.8 L446.00,260.2 L446.50,259.8 L447.00,259.6 L447.50,259.6 L448.00,258.7 L448.50,258.1 L449.00,257.9 L449.50,257.1 L450.00,257.3 L450.50,257.4 L451.00,255.7 L451.50,255.8 L452.00,256.9 L452.50,256.3 L453.00,256.5 L453.50,256.7 L454.00,257.3 L454.50,256.9 L455.00,256.9 L455.50,256.1 L456.00,254.7 L456.50,254.5 L457.00,254.2 L457.50,251.7 L458.00,251.3 L458.50,251.6 L459.00,250.1 L459.50,249.7 L460.00,250.1 L460.50,251.3 L461.00,251.3 L461.50,252.1 L462.00,253.2 L462.50,253.1 L463.00,253.5 L463.50,254.1 L464.00,252.2 L464.50,251.9 L465.00,251.5 L465.50,251.8 L466.00,251.4 L466.50,250.7 L467.00,250.5 L467.50,248.0 L468.00,246.5 L468.50,244.7 L469.00,243.2 L469.50,241.5 L470.00,243.5 L470.50,246.7 L471.00,249.3 L471.50,251.8 L472.00,254.0 L472.50,256.1 L473.00,257.9 L473.50,259.3 L474.00,262.5 L474.50,264.5 L475.00,265.6 L475.50,266.6 L476.00,267.5 L476.50,268.3 L477.00,268.9 L477.50,269.5 L478.00,270.3 L478.50,270.3 L479.00,271.7 L479.50,272.2 L480.00,273.8 L480.50,274.0 L481.00,273.7 L481.50,273.6 L482.00,274.4 L482.50,273.9 L483.00,275.1 L483.50,274.7 L484.00,275.1 L484.50,274.9 L485.00,275.2 L485.50,276.5 L486.00,276.3 L486.50,276.1 L487.00,276.8 L487.50,276.5 L488.00,276.8 L488.50,277.0 L489.00,277.8 L489.50,277.2 L490.00,277.5 L490.50,277.2 L491.00,277.5 L491.50,276.3 L492.00,276.1 L492.50,276.0 L493.00,276.4 L493.50,275.1 L494.00,276.0 L494.50,274.7 L495.00,275.1 L495.50,275.2 L496.00,274.8 L496.50,274.1 L497.00,274.0 L497.50,273.6 L498.00,273.5 L498.50,272.8 L499.00,273.9 L499.50,272.3 L500.00,272.4 L500.50,272.3 L501.00,273.0 L501.50,272.8 L502.00,274.0 L502.50,273.5 L503.00,273.9 L503.50,274.7 L504.00,274.4 L504.50,275.2 L505.00,275.1 L505.50,274.9 L506.00,275.0 L506.50,275.6 L507.00,275.8 L507.50,276.0 L508.00,276.3 L508.50,276.2 L509.00,276.3 L509.50,276.1 L510.00,276.3 L510.50,276.1 L511.00,276.5 L511.50,277.0 L512.00,277.1 L512.50,276.7 L513.00,277.2 L513.50,278.5 L514.00,277.6 L514.50,278.8 L515.00,278.7 L515.50,279.0 L516.00,279.2 L516.50,279.0 L517.00,279.1 L517.50,279.5 L518.00,280.2 L518.50,279.7 L519.00,280.4 L519.50,280.7 L520.00,281.0 L520.50,281.1 L521.00,280.5 L521.50,281.9 L522.00,281.0 L522.50,281.7 L523.00,281.5 L523.50,281.5 L524.00,281.5 L524.50,282.4 L525.00,281.8 L525.50,281.5 L526.00,281.6 L526.50,282.0 L527.00,282.8 L527.50,282.3 L528.00,282.6 L528.50,283.1 L529.00,283.1 L529.50,283.3 L530.00,283.3 L530.50,283.2 L531.00,283.4 L531.50,283.6 L532.00,283.6 L532.50,283.7 L533.00,283.6 L533.50,283.6 L534.00,284.0 L534.50,283.9 L535.00,283.7 L535.50,284.8 L536.00,284.2 L536.50,285.0 L537.00,285.1 L537.50,284.9 L538.00,285.7 L538.50,284.6 L539.00,285.4 L539.00,328.0 L538.50,328.4 L538.00,328.9 L537.50,330.0 L537.00,328.1 L536.50,327.7 L536.00,327.9 L535.50,329.3 L535.00,328.8 L534.50,329.9 L534.00,330.1 L533.50,329.0 L533.00,329.9 L532.50,330.2 L532.00,329.1 L531.50,329.4 L531.00,329.7 L530.50,329.9 L530.00,329.0 L529.50,331.4 L529.00,328.8 L528.50,329.8 L528.00,328.6 L527.50,329.5 L527.00,329.2 L526.50,329.6 L526.00,329.0 L525.50,328.3 L525.00,328.9 L524.50,327.1 L524.00,328.0 L523.50,328.6 L523.00,327.6 L522.50,326.6 L522.00,328.5 L521.50,326.4 L521.00,326.6 L520.50,326.6 L520.00,325.6 L519.50,327.8 L519.00,327.9 L518.50,325.5 L518.00,325.4 L517.50,324.8 L517.00,324.8 L516.50,324.8 L516.00,323.4 L515.50,325.1 L515.00,323.9 L514.50,323.4 L514.00,323.1 L513.50,321.0 L513.00,322.5 L512.50,321.6 L512.00,320.8 L511.50,321.8 L511.00,321.0 L510.50,321.4 L510.00,320.4 L509.50,320.2 L509.00,318.6 L508.50,318.7 L508.00,318.8 L507.50,318.6 L507.00,317.6 L506.50,316.4 L506.00,316.4 L505.50,316.1 L505.00,316.0 L504.50,315.3 L504.00,316.3 L503.50,313.9 L503.00,315.4 L502.50,314.9 L502.00,313.9 L501.50,314.2 L501.00,312.8 L500.50,311.8 L500.00,310.7 L499.50,310.7 L499.00,311.4 L498.50,311.7 L498.00,311.4 L497.50,309.4 L497.00,309.4 L496.50,311.3 L496.00,310.0 L495.50,309.7 L495.00,310.1 L494.50,307.9 L494.00,309.8 L493.50,307.4 L493.00,307.5 L492.50,308.2 L492.00,307.5 L491.50,307.1 L491.00,309.2 L490.50,307.1 L490.00,306.1 L489.50,307.1 L489.00,306.5 L488.50,306.1 L488.00,304.6 L487.50,306.6 L487.00,305.6 L486.50,304.3 L486.00,305.6 L485.50,304.3 L485.00,305.0 L484.50,303.8 L484.00,304.3 L483.50,303.4 L483.00,303.0 L482.50,304.0 L482.00,302.1 L481.50,302.6 L481.00,301.5 L480.50,300.8 L480.00,300.0 L479.50,299.7 L479.00,299.1 L478.50,299.4 L478.00,297.4 L477.50,297.4 L477.00,296.6 L476.50,296.2 L476.00,295.9 L475.50,296.3 L475.00,294.8 L474.50,292.8 L474.00,293.7 L473.50,291.7 L473.00,291.9 L472.50,288.5 L472.00,286.1 L471.50,286.0 L471.00,285.2 L470.50,283.3 L470.00,282.7 L469.50,281.7 L469.00,281.3 L468.50,281.3 L468.00,280.6 L467.50,280.1 L467.00,279.6 L466.50,281.1 L466.00,279.6 L465.50,279.4 L465.00,279.6 L464.50,279.0 L464.00,279.5 L463.50,276.8 L463.00,278.5 L462.50,277.8 L462.00,278.2 L461.50,278.8 L461.00,277.3 L460.50,277.6 L460.00,278.2 L459.50,278.9 L459.00,277.8 L458.50,276.7 L458.00,277.3 L457.50,277.6 L457.00,278.7 L456.50,278.7 L456.00,278.6 L455.50,278.7 L455.00,278.6 L454.50,279.1 L454.00,279.1 L453.50,279.9 L453.00,279.2 L452.50,280.3 L452.00,281.4 L451.50,279.6 L451.00,279.9 L450.50,279.3 L450.00,279.4 L449.50,278.6 L449.00,277.6 L448.50,277.7 L448.00,276.5 L447.50,276.5 L447.00,275.7 L446.50,275.2 L446.00,275.0 L445.50,274.9 L445.00,273.8 L444.50,273.1 L444.00,272.8 L443.50,271.0 L443.00,272.2 L442.50,270.4 L442.00,270.9 L441.50,270.4 L441.00,269.6 L440.50,269.7 L440.00,266.8 L439.50,268.7 L439.00,267.5 L438.50,266.5 L438.00,267.7 L437.50,266.1 L437.00,266.2 L436.50,265.6 L436.00,264.9 L435.50,264.4 L435.00,265.2 L434.50,263.8 L434.00,263.6 L433.50,262.4 L433.00,262.4 L432.50,262.9 L432.00,260.8 L431.50,261.0 L431.00,260.9 L430.50,260.2 L430.00,259.3 L429.50,258.2 L429.00,260.4 L428.50,258.4 L428.00,258.3 L427.50,258.5 L427.00,258.8 L426.50,259.1 L426.00,257.7 L425.50,258.2 L425.00,257.1 L424.50,257.3 L424.00,257.3 L423.50,256.9 L423.00,256.4 L422.50,256.6 L422.00,256.9 L421.50,257.3 L421.00,257.0 L420.50,257.2 L420.00,255.2 L419.50,255.6 L419.00,255.7 L418.50,254.8 L418.00,254.6 L417.50,255.1 L417.00,253.3 L416.50,252.6 L416.00,254.0 L415.50,252.7 L415.00,253.3 L414.50,253.6 L414.00,252.8 L413.50,253.1 L413.00,253.4 L412.50,253.1 L412.00,253.1 L411.50,252.0 L411.00,252.1 L410.50,251.6 L410.00,250.6 L409.50,252.0 L409.00,250.4 L408.50,251.0 L408.00,249.4 L407.50,250.2 L407.00,250.3 L406.50,250.6 L406.00,248.1 L405.50,247.8 L405.00,248.9 L404.50,249.7 L404.00,247.8 L403.50,248.4 L403.00,247.1 L402.50,248.0 L402.00,245.6 L401.50,247.1 L401.00,248.0 L400.50,247.4 L400.00,245.5 L399.50,246.6 L399.00,246.2 L398.50,245.0 L398.00,245.0 L397.50,245.6 L397.00,243.8 L396.50,245.0 L396.00,244.0 L395.50,244.6 L395.00,243.1 L394.50,243.7 L394.00,243.4 L393.50,242.3 L393.00,243.0 L392.50,243.3 L392.00,242.4 L391.50,242.3 L391.00,240.7 L390.50,241.4 L390.00,241.6 L389.50,240.8 L389.00,240.2 L388.50,240.6 L388.00,239.7 L387.50,239.6 L387.00,239.9 L386.50,238.1 L386.00,239.4 L385.50,238.0 L385.00,238.3 L384.50,238.0 L384.00,238.3 L383.50,237.9 L383.00,237.1 L382.50,236.6 L382.00,237.5 L381.50,235.4 L381.00,236.2 L380.50,234.4 L380.00,235.1 L379.50,234.2 L379.00,235.1 L378.50,234.3 L378.00,235.2 L377.50,235.1 L377.00,234.5 L376.50,234.1 L376.00,232.5 L375.50,232.6 L375.00,232.8 L374.50,232.5 L374.00,230.8 L373.50,231.9 L373.00,230.7 L372.50,230.2 L372.00,230.1 L371.50,231.2 L371.00,230.6 L370.50,229.9 L370.00,231.0 L369.50,229.2 L369.00,229.4Z" fill="#000"/>
<rect x="330.5" y="206.5" width="208" height="139" fill="none" stroke="#8c8c8c" stroke-width="1.1"/>
<path d="M330.00,141.15H331.30M537.70,141.15H539.00M330.00,136.33H331.30M537.70,136.33H539.00M330.00,132.90H331.30M537.70,132.90H539.00M330.00,130.25H331.30M537.70,130.25H539.00M330.00,128.08H331.30M537.70,128.08H539.00M330.00,126.24H331.30M537.70,126.24H539.00M330.00,124.66H331.30M537.70,124.66H539.00M330.00,123.25H331.30M537.70,123.25H539.00M330.00,122.00H332.20M536.80,122.00H539.00M330.00,113.75H331.30M537.70,113.75H539.00M330.00,108.93H331.30M537.70,108.93H539.00M330.00,105.50H331.30M537.70,105.50H539.00M330.00,102.85H331.30M537.70,102.85H539.00M330.00,100.68H331.30M537.70,100.68H539.00M330.00,98.84H331.30M537.70,98.84H539.00M330.00,97.26H331.30M537.70,97.26H539.00M330.00,95.85H331.30M537.70,95.85H539.00M330.00,94.60H332.20M536.80,94.60H539.00M330.00,86.35H331.30M537.70,86.35H539.00M330.00,81.53H331.30M537.70,81.53H539.00M330.00,78.10H331.30M537.70,78.10H539.00M330.00,75.45H331.30M537.70,75.45H539.00M330.00,73.28H331.30M537.70,73.28H539.00M330.00,71.44H331.30M537.70,71.44H539.00M330.00,69.86H331.30M537.70,69.86H539.00M330.00,68.45H331.30M537.70,68.45H539.00M330.00,67.20H332.20M536.80,67.20H539.00M330.00,58.95H331.30M537.70,58.95H539.00M330.00,54.13H331.30M537.70,54.13H539.00M330.00,50.70H331.30M537.70,50.70H539.00M330.00,48.05H331.30M537.70,48.05H539.00M330.00,45.88H331.30M537.70,45.88H539.00M330.00,44.04H331.30M537.70,44.04H539.00M330.00,42.46H331.30M537.70,42.46H539.00M330.00,41.05H331.30M537.70,41.05H539.00M330.00,39.80H332.20M536.80,39.80H539.00M330.00,31.55H331.30M537.70,31.55H539.00M330.00,26.73H331.30M537.70,26.73H539.00M330.00,23.30H331.30M537.70,23.30H539.00M330.00,20.65H331.30M537.70,20.65H539.00M330.00,18.48H331.30M537.70,18.48H539.00M330.00,16.64H331.30M537.70,16.64H539.00M330.00,15.06H331.30M537.70,15.06H539.00M330.00,13.65H331.30M537.70,13.65H539.00M330.00,12.40H332.20M536.80,12.40H539.00M334.40,149.00V146.80M334.40,9.00V11.20M401.80,149.00V146.80M401.80,9.00V11.20M470.20,149.00V146.80M470.20,9.00V11.20M104.30,346.00V343.80M104.30,206.00V208.20M156.50,346.00V343.80M156.50,206.00V208.20M208.70,346.00V343.80M208.70,206.00V208.20M260.90,346.00V343.80M260.90,206.00V208.20M54.00,236.90H56.20M261.80,236.90H264.00M54.00,267.60H56.20M261.80,267.60H264.00M54.00,298.30H56.20M261.80,298.30H264.00M54.00,329.00H56.20M261.80,329.00H264.00M330.00,241.60H332.20M536.80,241.60H539.00M330.00,275.80H332.20M536.80,275.80H539.00M330.00,310.00H332.20M536.80,310.00H539.00M331.67,346.00V344.70M331.67,206.00V207.30M333.00,346.00V343.80M333.00,206.00V208.20M341.76,346.00V344.70M341.76,206.00V207.30M346.88,346.00V344.70M346.88,206.00V207.30M350.52,346.00V344.70M350.52,206.00V207.30M353.34,346.00V344.70M353.34,206.00V207.30M355.64,346.00V344.70M355.64,206.00V207.30M357.59,346.00V344.70M357.59,206.00V207.30M359.28,346.00V344.70M359.28,206.00V207.30M360.77,346.00V344.70M360.77,206.00V207.30M362.10,346.00V343.80M362.10,206.00V208.20M370.86,346.00V344.70M370.86,206.00V207.30M375.98,346.00V344.70M375.98,206.00V207.30M379.62,346.00V344.70M379.62,206.00V207.30M382.44,346.00V344.70M382.44,206.00V207.30M384.74,346.00V344.70M384.74,206.00V207.30M386.69,346.00V344.70M386.69,206.00V207.30M388.38,346.00V344.70M388.38,206.00V207.30M389.87,346.00V344.70M389.87,206.00V207.30M391.20,346.00V343.80M391.20,206.00V208.20M399.96,346.00V344.70M399.96,206.00V207.30M405.08,346.00V344.70M405.08,206.00V207.30M408.72,346.00V344.70M408.72,206.00V207.30M411.54,346.00V344.70M411.54,206.00V207.30M413.84,346.00V344.70M413.84,206.00V207.30M415.79,346.00V344.70M415.79,206.00V207.30M417.48,346.00V344.70M417.48,206.00V207.30M418.97,346.00V344.70M418.97,206.00V207.30M420.30,346.00V343.80M420.30,206.00V208.20M429.06,346.00V344.70M429.06,206.00V207.30M434.18,346.00V344.70M434.18,206.00V207.30M437.82,346.00V344.70M437.82,206.00V207.30M440.64,346.00V344.70M440.64,206.00V207.30M442.94,346.00V344.70M442.94,206.00V207.30M444.89,346.00V344.70M444.89,206.00V207.30M446.58,346.00V344.70M446.58,206.00V207.30M448.07,346.00V344.70M448.07,206.00V207.30M449.40,346.00V343.80M449.40,206.00V208.20M458.16,346.00V344.70M458.16,206.00V207.30M463.28,346.00V344.70M463.28,206.00V207.30M466.92,346.00V344.70M466.92,206.00V207.30M469.74,346.00V344.70M469.74,206.00V207.30M472.04,346.00V344.70M472.04,206.00V207.30M473.99,346.00V344.70M473.99,206.00V207.30M475.68,346.00V344.70M475.68,206.00V207.30M477.17,346.00V344.70M477.17,206.00V207.30M478.50,346.00V343.80M478.50,206.00V208.20M487.26,346.00V344.70M487.26,206.00V207.30M492.38,346.00V344.70M492.38,206.00V207.30M496.02,346.00V344.70M496.02,206.00V207.30M498.84,346.00V344.70M498.84,206.00V207.30M501.14,346.00V344.70M501.14,206.00V207.30M503.09,346.00V344.70M503.09,206.00V207.30M504.78,346.00V344.70M504.78,206.00V207.30M506.27,346.00V344.70M506.27,206.00V207.30M507.60,346.00V343.80M507.60,206.00V208.20M516.36,346.00V344.70M516.36,206.00V207.30M521.48,346.00V344.70M521.48,206.00V207.30M525.12,346.00V344.70M525.12,206.00V207.30M527.94,346.00V344.70M527.94,206.00V207.30M530.24,346.00V344.70M530.24,206.00V207.30M532.19,346.00V344.70M532.19,206.00V207.30M533.88,346.00V344.70M533.88,206.00V207.30M535.37,346.00V344.70M535.37,206.00V207.30M536.70,346.00V343.80M536.70,206.00V208.20" stroke="#555" stroke-width="0.8" fill="none"/>
<text x="28.96" y="18.32" font-size="12.57" fill="#181818" textLength="13.05" lengthAdjust="spacingAndGlyphs">10</text>
<text x="43.10" y="12.15" font-size="9.74" fill="#181818" textLength="6.10" lengthAdjust="spacingAndGlyphs">2</text>
<text x="29.58" y="73.32" font-size="12.85" fill="#181818" textLength="13.44" lengthAdjust="spacingAndGlyphs">10</text>
<text x="44.87" y="66.56" font-size="9.32" fill="#181818" textLength="3.96" lengthAdjust="spacingAndGlyphs">0</text>
<text x="25.86" y="128.32" font-size="12.99" fill="#181818" textLength="13.05" lengthAdjust="spacingAndGlyphs">10</text>
<text x="40.95" y="122.05" font-size="9.74" fill="#181818" textLength="8.05" lengthAdjust="spacingAndGlyphs">-2</text>
<text x="304.96" y="18.32" font-size="12.57" fill="#181818" textLength="13.05" lengthAdjust="spacingAndGlyphs">10</text>
<text x="319.10" y="12.15" font-size="9.74" fill="#181818" textLength="6.10" lengthAdjust="spacingAndGlyphs">2</text>
<text x="305.58" y="73.32" font-size="12.85" fill="#181818" textLength="13.44" lengthAdjust="spacingAndGlyphs">10</text>
<text x="320.87" y="66.56" font-size="9.32" fill="#181818" textLength="3.96" lengthAdjust="spacingAndGlyphs">0</text>
<text x="301.86" y="128.32" font-size="12.99" fill="#181818" textLength="13.05" lengthAdjust="spacingAndGlyphs">10</text>
<text x="316.95" y="122.05" font-size="9.74" fill="#181818" textLength="8.05" lengthAdjust="spacingAndGlyphs">-2</text>
<text transform="translate(18.60,129.76) rotate(-90)" x="0" y="0" font-size="14.40" fill="#181818" textLength="102.03" lengthAdjust="spacingAndGlyphs">Frequency (Hz)</text>
<text transform="translate(293.80,129.76) rotate(-90)" x="0" y="0" font-size="14.40" fill="#181818" textLength="101.93" lengthAdjust="spacingAndGlyphs">Frequency (Hz)</text>
<text transform="translate(19.30,334.47) rotate(-90)" x="0" y="0" font-size="14.40" fill="#181818" textLength="116.85" lengthAdjust="spacingAndGlyphs">Displacement (m)</text>
<text transform="translate(291.60,312.97) rotate(-90)" x="0" y="0" font-size="14.40" fill="#181818" textLength="74.23" lengthAdjust="spacingAndGlyphs">Power (dB)</text>
<text x="104.8" y="167.1" font-size="13.4" text-anchor="middle" fill="#181818">2</text>
<text x="156.6" y="167.1" font-size="13.4" text-anchor="middle" fill="#181818">4</text>
<text x="208.65" y="167.1" font-size="13.4" text-anchor="middle" fill="#181818">6</text>
<text x="260.55" y="167.1" font-size="13.4" text-anchor="middle" fill="#181818">8</text>
<text x="133.93" y="185.50" font-size="14.20" fill="#181818" textLength="52.31" lengthAdjust="spacingAndGlyphs">Time (s)</text>
<text x="233.13" y="190.43" font-size="13.48" fill="#6a6a6a" textLength="8.53" lengthAdjust="spacingAndGlyphs">×</text>
<text x="241.90" y="188.82" font-size="12.85" fill="#181818" textLength="13.95" lengthAdjust="spacingAndGlyphs">10</text>
<text x="257.13" y="182.55" font-size="8.14" fill="#181818" textLength="5.41" lengthAdjust="spacingAndGlyphs">4</text>
<text x="104.8" y="364.1" font-size="13.4" text-anchor="middle" fill="#181818">2</text>
<text x="156.6" y="364.1" font-size="13.4" text-anchor="middle" fill="#181818">4</text>
<text x="208.65" y="364.1" font-size="13.4" text-anchor="middle" fill="#181818">6</text>
<text x="260.55" y="364.1" font-size="13.4" text-anchor="middle" fill="#181818">8</text>
<text x="133.93" y="382.50" font-size="14.20" fill="#181818" textLength="52.31" lengthAdjust="spacingAndGlyphs">Time (s)</text>
<text x="233.13" y="387.43" font-size="13.48" fill="#6a6a6a" textLength="8.53" lengthAdjust="spacingAndGlyphs">×</text>
<text x="241.90" y="385.82" font-size="12.85" fill="#181818" textLength="13.95" lengthAdjust="spacingAndGlyphs">10</text>
<text x="257.13" y="379.55" font-size="8.14" fill="#181818" textLength="5.41" lengthAdjust="spacingAndGlyphs">4</text>
<text x="322.09" y="167.20" font-size="13.30" fill="#181818" textLength="25.67" lengthAdjust="spacingAndGlyphs">-150</text>
<text x="389.05" y="167.20" font-size="13.30" fill="#181818" textLength="27.24" lengthAdjust="spacingAndGlyphs">-100</text>
<text x="459.73" y="167.20" font-size="13.30" fill="#181818" textLength="20.27" lengthAdjust="spacingAndGlyphs">-50</text>
<text x="533.29" y="167.20" font-size="13.30" fill="#181818" textLength="6.52" lengthAdjust="spacingAndGlyphs">0</text>
<text x="397.64" y="186.10" font-size="14.20" fill="#181818" textLength="73.72" lengthAdjust="spacingAndGlyphs">Power (dB)</text>
<text x="49.1" y="211.0" font-size="13.3" text-anchor="end" fill="#181818">0</text>
<text x="49.1" y="241.4" font-size="13.3" text-anchor="end" fill="#181818">-0.5</text>
<text x="49.1" y="272.0" font-size="13.3" text-anchor="end" fill="#181818">-1</text>
<text x="49.1" y="302.6" font-size="13.3" text-anchor="end" fill="#181818">-1.5</text>
<text x="49.1" y="333.3" font-size="13.3" text-anchor="end" fill="#181818">-2</text>
<text x="55.29" y="203.48" font-size="13.03" fill="#6a6a6a" textLength="8.01" lengthAdjust="spacingAndGlyphs">×</text>
<text x="65.77" y="202.33" font-size="12.01" fill="#181818" textLength="14.39" lengthAdjust="spacingAndGlyphs">10</text>
<text x="80.42" y="196.45" font-size="9.60" fill="#181818" textLength="8.64" lengthAdjust="spacingAndGlyphs">-5</text>
<text x="324.4" y="212.4" font-size="13.3" text-anchor="end" fill="#181818">-50</text>
<text x="324.4" y="246.7" font-size="13.3" text-anchor="end" fill="#181818">-100</text>
<text x="324.4" y="281.0" font-size="13.3" text-anchor="end" fill="#181818">-150</text>
<text x="324.4" y="315.3" font-size="13.3" text-anchor="end" fill="#181818">-200</text>
<text x="324.4" y="349.6" font-size="13.3" text-anchor="end" fill="#181818">-250</text>
<text x="350.86" y="368.32" font-size="12.99" fill="#181818" textLength="13.05" lengthAdjust="spacingAndGlyphs">10</text>
<text x="365.96" y="361.65" font-size="9.45" fill="#181818" textLength="7.85" lengthAdjust="spacingAndGlyphs">-4</text>
<text x="408.99" y="368.42" font-size="12.85" fill="#181818" textLength="14.06" lengthAdjust="spacingAndGlyphs">10</text>
<text x="425.17" y="362.05" font-size="9.89" fill="#181818" textLength="7.61" lengthAdjust="spacingAndGlyphs">-2</text>
<text x="468.80" y="368.42" font-size="12.85" fill="#181818" textLength="13.95" lengthAdjust="spacingAndGlyphs">10</text>
<text x="483.90" y="361.65" font-size="9.89" fill="#181818" textLength="5.00" lengthAdjust="spacingAndGlyphs">0</text>
<text x="526.40" y="368.42" font-size="12.85" fill="#181818" textLength="13.95" lengthAdjust="spacingAndGlyphs">10</text>
<text x="541.52" y="362.35" font-size="10.60" fill="#181818" textLength="5.85" lengthAdjust="spacingAndGlyphs">2</text>
<text x="382.72" y="386.50" font-size="14.20" fill="#181818" textLength="103.46" lengthAdjust="spacingAndGlyphs">Frequency (Hz)</text>
</svg></body></html>
